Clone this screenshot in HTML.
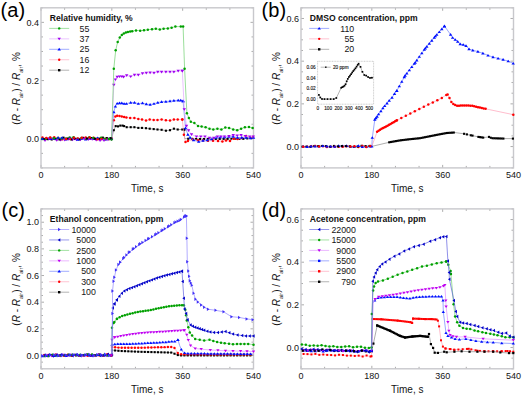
<!DOCTYPE html>
<html><head><meta charset="utf-8"><style>html,body{margin:0;padding:0;background:#fff;width:522px;height:396px;overflow:hidden}svg{display:block}</style></head><body><svg width="522" height="396" viewBox="0 0 522 396" font-family='"Liberation Sans", sans-serif' fill="#141414">
<rect width="522" height="396" fill="#fff"/>
<text x="0.6" y="16.8" font-size="20" fill="#000">(a)</text>
<text x="261.6" y="16.8" font-size="20" fill="#000">(b)</text>
<text x="1.6" y="216.5" font-size="20" fill="#000">(c)</text>
<text x="261.6" y="216.5" font-size="20" fill="#000">(d)</text>
<path d="M41 167.9v-3M41 7.8v3M64.61 167.9v-2M64.61 7.8v2M88.22 167.9v-2M88.22 7.8v2M111.83 167.9v-3M111.83 7.8v3M135.44 167.9v-2M135.44 7.8v2M159.06 167.9v-2M159.06 7.8v2M182.67 167.9v-3M182.67 7.8v3M206.28 167.9v-2M206.28 7.8v2M229.89 167.9v-2M229.89 7.8v2M253.5 167.9v-3M253.5 7.8v3M41 167.9h2M253.5 167.9h-2M41 153.35h2M253.5 153.35h-2M41 138.79h3M253.5 138.79h-3M41 124.24h2M253.5 124.24h-2M41 109.68h2M253.5 109.68h-2M41 95.13h2M253.5 95.13h-2M41 80.57h3M253.5 80.57h-3M41 66.02h2M253.5 66.02h-2M41 51.46h2M253.5 51.46h-2M41 36.91h2M253.5 36.91h-2M41 22.35h3M253.5 22.35h-3M41 7.8h2M253.5 7.8h-2" stroke="#8a8a8a" stroke-width="0.7" fill="none"/>
<rect x="41" y="7.8" width="212.5" height="160.1" fill="none" stroke="#c8c8cc" stroke-width="1.4"/>
<text x="41" y="178.2" text-anchor="middle" font-size="9">0</text>
<text x="111.83" y="178.2" text-anchor="middle" font-size="9">180</text>
<text x="182.67" y="178.2" text-anchor="middle" font-size="9">360</text>
<text x="253.5" y="178.2" text-anchor="middle" font-size="9">540</text>
<text x="39" y="141.99" text-anchor="end" font-size="9">0.0</text>
<text x="39" y="83.77" text-anchor="end" font-size="9">0.2</text>
<text x="39" y="25.55" text-anchor="end" font-size="9">0.4</text>
<text x="147.25" y="192.2" text-anchor="middle" font-size="10">Time, s</text>
<text transform="translate(19.5 88.45) rotate(-90)" text-anchor="middle" font-size="10">(<tspan font-style="italic">R</tspan> - <tspan font-style="italic">R</tspan><tspan font-size="5.6" dy="3">air</tspan><tspan dy="-3">) / </tspan><tspan font-style="italic">R</tspan><tspan font-size="5.6" dy="3">air</tspan><tspan dy="-3">, %</tspan></text>
<path d="M301 167.9v-3M301 7.8v3M324.61 167.9v-2M324.61 7.8v2M348.22 167.9v-2M348.22 7.8v2M371.83 167.9v-3M371.83 7.8v3M395.44 167.9v-2M395.44 7.8v2M419.06 167.9v-2M419.06 7.8v2M442.67 167.9v-3M442.67 7.8v3M466.28 167.9v-2M466.28 7.8v2M489.89 167.9v-2M489.89 7.8v2M513.5 167.9v-3M513.5 7.8v3M301 167.9h2M513.5 167.9h-2M301 157.23h2M513.5 157.23h-2M301 146.55h3M513.5 146.55h-3M301 135.88h2M513.5 135.88h-2M301 125.21h2M513.5 125.21h-2M301 114.53h2M513.5 114.53h-2M301 103.86h3M513.5 103.86h-3M301 93.19h2M513.5 93.19h-2M301 82.51h2M513.5 82.51h-2M301 71.84h2M513.5 71.84h-2M301 61.17h3M513.5 61.17h-3M301 50.49h2M513.5 50.49h-2M301 39.82h2M513.5 39.82h-2M301 29.15h2M513.5 29.15h-2M301 18.47h3M513.5 18.47h-3M301 7.8h2M513.5 7.8h-2" stroke="#8a8a8a" stroke-width="0.7" fill="none"/>
<rect x="301" y="7.8" width="212.5" height="160.1" fill="none" stroke="#c8c8cc" stroke-width="1.4"/>
<text x="301" y="178.2" text-anchor="middle" font-size="9">0</text>
<text x="371.83" y="178.2" text-anchor="middle" font-size="9">180</text>
<text x="442.67" y="178.2" text-anchor="middle" font-size="9">360</text>
<text x="513.5" y="178.2" text-anchor="middle" font-size="9">540</text>
<text x="299" y="149.75" text-anchor="end" font-size="9">0.0</text>
<text x="299" y="107.06" text-anchor="end" font-size="9">0.2</text>
<text x="299" y="64.37" text-anchor="end" font-size="9">0.4</text>
<text x="299" y="21.67" text-anchor="end" font-size="9">0.6</text>
<text x="407.25" y="192.2" text-anchor="middle" font-size="10">Time, s</text>
<text transform="translate(279.5 88.45) rotate(-90)" text-anchor="middle" font-size="10">(<tspan font-style="italic">R</tspan> - <tspan font-style="italic">R</tspan><tspan font-size="5.6" dy="3">air</tspan><tspan dy="-3">) / </tspan><tspan font-style="italic">R</tspan><tspan font-size="5.6" dy="3">air</tspan><tspan dy="-3">, %</tspan></text>
<path d="M41 368.8v-3M41 208.9v3M64.61 368.8v-2M64.61 208.9v2M88.22 368.8v-2M88.22 208.9v2M111.83 368.8v-3M111.83 208.9v3M135.44 368.8v-2M135.44 208.9v2M159.06 368.8v-2M159.06 208.9v2M182.67 368.8v-3M182.67 208.9v3M206.28 368.8v-2M206.28 208.9v2M229.89 368.8v-2M229.89 208.9v2M253.5 368.8v-3M253.5 208.9v3M41 368.8h2M253.5 368.8h-2M41 362.14h2M253.5 362.14h-2M41 355.48h3M253.5 355.48h-3M41 348.81h2M253.5 348.81h-2M41 342.15h2M253.5 342.15h-2M41 335.49h2M253.5 335.49h-2M41 328.82h3M253.5 328.82h-3M41 322.16h2M253.5 322.16h-2M41 315.5h2M253.5 315.5h-2M41 308.84h2M253.5 308.84h-2M41 302.18h3M253.5 302.18h-3M41 295.51h2M253.5 295.51h-2M41 288.85h2M253.5 288.85h-2M41 282.19h2M253.5 282.19h-2M41 275.53h3M253.5 275.53h-3M41 268.86h2M253.5 268.86h-2M41 262.2h2M253.5 262.2h-2M41 255.54h2M253.5 255.54h-2M41 248.88h3M253.5 248.88h-3M41 242.21h2M253.5 242.21h-2M41 235.55h2M253.5 235.55h-2M41 228.89h2M253.5 228.89h-2M41 222.23h3M253.5 222.23h-3M41 215.56h2M253.5 215.56h-2M41 208.9h2M253.5 208.9h-2" stroke="#8a8a8a" stroke-width="0.7" fill="none"/>
<rect x="41" y="208.9" width="212.5" height="159.9" fill="none" stroke="#c8c8cc" stroke-width="1.4"/>
<text x="41" y="379.1" text-anchor="middle" font-size="9">0</text>
<text x="111.83" y="379.1" text-anchor="middle" font-size="9">180</text>
<text x="182.67" y="379.1" text-anchor="middle" font-size="9">360</text>
<text x="253.5" y="379.1" text-anchor="middle" font-size="9">540</text>
<text x="39" y="358.68" text-anchor="end" font-size="9">0.0</text>
<text x="39" y="332.02" text-anchor="end" font-size="9">0.2</text>
<text x="39" y="305.38" text-anchor="end" font-size="9">0.4</text>
<text x="39" y="278.73" text-anchor="end" font-size="9">0.6</text>
<text x="39" y="252.08" text-anchor="end" font-size="9">0.8</text>
<text x="39" y="225.43" text-anchor="end" font-size="9">1.0</text>
<text x="147.25" y="393.1" text-anchor="middle" font-size="10">Time, s</text>
<text transform="translate(19.5 289.45) rotate(-90)" text-anchor="middle" font-size="10">(<tspan font-style="italic">R</tspan> - <tspan font-style="italic">R</tspan><tspan font-size="5.6" dy="3">air</tspan><tspan dy="-3">) / </tspan><tspan font-style="italic">R</tspan><tspan font-size="5.6" dy="3">air</tspan><tspan dy="-3">, %</tspan></text>
<path d="M301 368.8v-3M301 208.9v3M324.61 368.8v-2M324.61 208.9v2M348.22 368.8v-2M348.22 208.9v2M371.83 368.8v-3M371.83 208.9v3M395.44 368.8v-2M395.44 208.9v2M419.06 368.8v-2M419.06 208.9v2M442.67 368.8v-3M442.67 208.9v3M466.28 368.8v-2M466.28 208.9v2M489.89 368.8v-2M489.89 208.9v2M513.5 368.8v-3M513.5 208.9v3M301 368.8h2M513.5 368.8h-2M301 358.14h2M513.5 358.14h-2M301 347.48h3M513.5 347.48h-3M301 336.82h2M513.5 336.82h-2M301 326.16h2M513.5 326.16h-2M301 315.5h2M513.5 315.5h-2M301 304.84h3M513.5 304.84h-3M301 294.18h2M513.5 294.18h-2M301 283.52h2M513.5 283.52h-2M301 272.86h2M513.5 272.86h-2M301 262.2h3M513.5 262.2h-3M301 251.54h2M513.5 251.54h-2M301 240.88h2M513.5 240.88h-2M301 230.22h2M513.5 230.22h-2M301 219.56h3M513.5 219.56h-3M301 208.9h2M513.5 208.9h-2" stroke="#8a8a8a" stroke-width="0.7" fill="none"/>
<rect x="301" y="208.9" width="212.5" height="159.9" fill="none" stroke="#c8c8cc" stroke-width="1.4"/>
<text x="301" y="379.1" text-anchor="middle" font-size="9">0</text>
<text x="371.83" y="379.1" text-anchor="middle" font-size="9">180</text>
<text x="442.67" y="379.1" text-anchor="middle" font-size="9">360</text>
<text x="513.5" y="379.1" text-anchor="middle" font-size="9">540</text>
<text x="299" y="350.68" text-anchor="end" font-size="9">0.0</text>
<text x="299" y="308.04" text-anchor="end" font-size="9">0.2</text>
<text x="299" y="265.4" text-anchor="end" font-size="9">0.4</text>
<text x="299" y="222.76" text-anchor="end" font-size="9">0.6</text>
<text x="407.25" y="393.1" text-anchor="middle" font-size="10">Time, s</text>
<text transform="translate(279.5 289.45) rotate(-90)" text-anchor="middle" font-size="10">(<tspan font-style="italic">R</tspan> - <tspan font-style="italic">R</tspan><tspan font-size="5.6" dy="3">air</tspan><tspan dy="-3">) / </tspan><tspan font-style="italic">R</tspan><tspan font-size="5.6" dy="3">air</tspan><tspan dy="-3">, %</tspan></text>
<text x="49.8" y="21" font-size="8.6" font-weight="bold" fill="#111">Relative humidity, %</text>
<path d="M49.2 28.4h20" stroke="#70d070" stroke-width="0.65"/>
<circle cx="59.2" cy="28.4" r="1.2" fill="#00a000"/>
<text x="89.4" y="31.5" text-anchor="end" font-size="8.8">55</text>
<path d="M49.2 38.85h20" stroke="#e0a8ff" stroke-width="0.65"/>
<path d="M57.46 37.72L60.94 37.72L59.2 40.33Z" fill="#a000f0"/>
<text x="89.4" y="41.95" text-anchor="end" font-size="8.8">37</text>
<path d="M49.2 49.3h20" stroke="#7080ff" stroke-width="0.65"/>
<path d="M57.46 50.43L60.94 50.43L59.2 47.82Z" fill="#0010ff"/>
<text x="89.4" y="52.4" text-anchor="end" font-size="8.8">25</text>
<path d="M49.2 59.75h20" stroke="#ffa0b8" stroke-width="0.65"/>
<circle cx="59.2" cy="59.75" r="1.2" fill="#ff0000"/>
<text x="89.4" y="62.85" text-anchor="end" font-size="8.8">16</text>
<path d="M49.2 70.2h20" stroke="#8a8a8a" stroke-width="0.65"/>
<rect x="58" y="69" width="2.4" height="2.4" fill="#000"/>
<text x="89.4" y="73.3" text-anchor="end" font-size="8.8">12</text>
<polyline points="43.81,139.08 47.74,139.19 51.68,139.48 55.61,139.08 59.55,139.44 63.48,137.66 67.42,138.53 71.35,139.49 75.29,138.9 79.22,139.4 83.16,137.83 87.09,138.54 91.03,138.09 94.96,138.69 98.9,138.75 102.83,137.63 106.77,138.03 110.7,138.16 111.5,138.6 113.8,130.2 115.7,126.1 118,126.4 120.3,125.6 122.6,125.6 124.1,126.1 126.7,127.2 130.7,127.2 134.4,127.2 138.3,127.9 142,127.9 146,128.2 149.7,128.7 153.7,129.1 157.5,129.5 161.6,129.8 165.9,130.7 170,130.2 173.9,128.7 177.7,129.5 182.3,129.5 184.3,129.5 184.6,138.5 188.6,138.8 200,139 215,138.9 234.6,138.8 243.2,138.8 251.8,138 253,138" fill="none" stroke="#8a8a8a" stroke-width="0.7"/>
<rect x="110.45" y="137.55" width="2.1" height="2.1" fill="#000"/><rect x="112.75" y="129.15" width="2.1" height="2.1" fill="#000"/><rect x="114.65" y="125.05" width="2.1" height="2.1" fill="#000"/><rect x="116.95" y="125.35" width="2.1" height="2.1" fill="#000"/><rect x="119.25" y="124.55" width="2.1" height="2.1" fill="#000"/><rect x="121.55" y="124.55" width="2.1" height="2.1" fill="#000"/><rect x="123.05" y="125.05" width="2.1" height="2.1" fill="#000"/><rect x="125.65" y="126.15" width="2.1" height="2.1" fill="#000"/><rect x="129.65" y="126.15" width="2.1" height="2.1" fill="#000"/><rect x="133.35" y="126.15" width="2.1" height="2.1" fill="#000"/><rect x="137.25" y="126.85" width="2.1" height="2.1" fill="#000"/><rect x="140.95" y="126.85" width="2.1" height="2.1" fill="#000"/><rect x="144.95" y="127.15" width="2.1" height="2.1" fill="#000"/><rect x="148.65" y="127.65" width="2.1" height="2.1" fill="#000"/><rect x="152.65" y="128.05" width="2.1" height="2.1" fill="#000"/><rect x="156.45" y="128.45" width="2.1" height="2.1" fill="#000"/><rect x="160.55" y="128.75" width="2.1" height="2.1" fill="#000"/><rect x="164.85" y="129.65" width="2.1" height="2.1" fill="#000"/><rect x="168.95" y="129.15" width="2.1" height="2.1" fill="#000"/><rect x="172.85" y="127.65" width="2.1" height="2.1" fill="#000"/><rect x="176.65" y="128.45" width="2.1" height="2.1" fill="#000"/><rect x="181.25" y="128.45" width="2.1" height="2.1" fill="#000"/><rect x="183.25" y="128.45" width="2.1" height="2.1" fill="#000"/><rect x="183.25" y="128.45" width="2.1" height="2.1" fill="#000"/><rect x="187.19" y="137.72" width="2.1" height="2.1" fill="#000"/><rect x="191.12" y="137.81" width="2.1" height="2.1" fill="#000"/><rect x="195.06" y="137.88" width="2.1" height="2.1" fill="#000"/><rect x="198.99" y="137.95" width="2.1" height="2.1" fill="#000"/><rect x="202.93" y="137.92" width="2.1" height="2.1" fill="#000"/><rect x="206.86" y="137.9" width="2.1" height="2.1" fill="#000"/><rect x="210.8" y="137.87" width="2.1" height="2.1" fill="#000"/><rect x="214.73" y="137.85" width="2.1" height="2.1" fill="#000"/><rect x="218.66" y="137.83" width="2.1" height="2.1" fill="#000"/><rect x="222.6" y="137.81" width="2.1" height="2.1" fill="#000"/><rect x="226.53" y="137.79" width="2.1" height="2.1" fill="#000"/><rect x="230.47" y="137.77" width="2.1" height="2.1" fill="#000"/><rect x="234.41" y="137.75" width="2.1" height="2.1" fill="#000"/><rect x="238.34" y="137.75" width="2.1" height="2.1" fill="#000"/><rect x="242.28" y="137.74" width="2.1" height="2.1" fill="#000"/><rect x="246.21" y="137.37" width="2.1" height="2.1" fill="#000"/><rect x="250.14" y="137.01" width="2.1" height="2.1" fill="#000"/>
<polyline points="42.44,137.43 46.37,138.07 50.31,137.54 54.24,137.35 58.18,138.08 62.11,139.22 66.05,138.96 69.98,138.88 73.92,137.69 77.85,138.38 81.79,137.81 85.72,137.58 89.66,137.43 93.59,137.67 97.53,139.24 101.46,139.02 105.4,138.97 109.33,138.96 111.5,138.5 113.8,120.3 115.4,116.4 117.2,115.7 119.5,116.1 121.8,116.4 124.1,116.9 126.4,117.5 130.2,118 134.4,118 138.3,119 142,119.5 146,120.6 149.7,119.5 153.7,120 157.5,120 161.6,119.5 165.9,120.3 170,120.6 173.9,119.5 177.7,119.5 182.3,119.5 183.9,134.8 185.5,142 187.9,141 192.9,139.5 198,140.2 203,140.6 208,140.8 213,140.8 218,141 222.4,141.4 226,140.5 230,141 233.9,138.8 237.5,139.1 241.8,138 246.1,135.9 250.4,137.6 253,137" fill="none" stroke="#ffa0b8" stroke-width="0.7"/>
<circle cx="111.5" cy="138.5" r="1.25" fill="#ff0000"/><circle cx="113.8" cy="120.3" r="1.25" fill="#ff0000"/><circle cx="115.4" cy="116.4" r="1.25" fill="#ff0000"/><circle cx="117.2" cy="115.7" r="1.25" fill="#ff0000"/><circle cx="119.5" cy="116.1" r="1.25" fill="#ff0000"/><circle cx="121.8" cy="116.4" r="1.25" fill="#ff0000"/><circle cx="124.1" cy="116.9" r="1.25" fill="#ff0000"/><circle cx="126.4" cy="117.5" r="1.25" fill="#ff0000"/><circle cx="130.2" cy="118" r="1.25" fill="#ff0000"/><circle cx="134.4" cy="118" r="1.25" fill="#ff0000"/><circle cx="138.3" cy="119" r="1.25" fill="#ff0000"/><circle cx="142" cy="119.5" r="1.25" fill="#ff0000"/><circle cx="146" cy="120.6" r="1.25" fill="#ff0000"/><circle cx="149.7" cy="119.5" r="1.25" fill="#ff0000"/><circle cx="153.7" cy="120" r="1.25" fill="#ff0000"/><circle cx="157.5" cy="120" r="1.25" fill="#ff0000"/><circle cx="161.6" cy="119.5" r="1.25" fill="#ff0000"/><circle cx="165.9" cy="120.3" r="1.25" fill="#ff0000"/><circle cx="170" cy="120.6" r="1.25" fill="#ff0000"/><circle cx="173.9" cy="119.5" r="1.25" fill="#ff0000"/><circle cx="177.7" cy="119.5" r="1.25" fill="#ff0000"/><circle cx="182.3" cy="119.5" r="1.25" fill="#ff0000"/><circle cx="182.3" cy="119.5" r="1.25" fill="#ff0000"/><circle cx="183.9" cy="134.8" r="1.25" fill="#ff0000"/><circle cx="185.5" cy="142" r="1.25" fill="#ff0000"/><circle cx="187.9" cy="141" r="1.25" fill="#ff0000"/><circle cx="192.9" cy="139.5" r="1.25" fill="#ff0000"/><circle cx="198" cy="140.2" r="1.25" fill="#ff0000"/><circle cx="203" cy="140.6" r="1.25" fill="#ff0000"/><circle cx="208" cy="140.8" r="1.25" fill="#ff0000"/><circle cx="213" cy="140.8" r="1.25" fill="#ff0000"/><circle cx="218" cy="141" r="1.25" fill="#ff0000"/><circle cx="222.4" cy="141.4" r="1.25" fill="#ff0000"/><circle cx="226" cy="140.5" r="1.25" fill="#ff0000"/><circle cx="230" cy="141" r="1.25" fill="#ff0000"/><circle cx="233.9" cy="138.8" r="1.25" fill="#ff0000"/><circle cx="237.5" cy="139.1" r="1.25" fill="#ff0000"/><circle cx="241.8" cy="138" r="1.25" fill="#ff0000"/><circle cx="246.1" cy="135.9" r="1.25" fill="#ff0000"/><circle cx="250.4" cy="137.6" r="1.25" fill="#ff0000"/><circle cx="253" cy="137" r="1.25" fill="#ff0000"/>
<polyline points="42.44,138.69 46.38,138.34 50.31,138.81 54.25,138.85 58.18,137.73 62.12,137.63 66.05,139.27 69.99,138.12 73.92,138.07 77.86,139.59 81.79,138.54 85.73,139.27 89.66,138.55 93.6,138.88 97.53,137.9 101.47,138.87 105.4,139.34 109.34,138.65 111.5,138.6 113.8,112 115.4,106.4 117.2,103.4 119.5,103.1 121.8,103.1 124.1,103.7 126.4,103.7 130.7,102.6 134.5,102.6 138.3,103.7 142.5,103.1 146.3,104.1 150.1,104.6 154,103.7 157.8,102.6 161.6,101.8 165.9,101.5 170,101.1 173.9,100.6 178.2,100.3 180.8,100.3 183.1,101.1 185.5,128 187.9,134.5 190.1,137.6 193.6,140 198.7,141.7 203,140.5 207.3,140 211.6,139.1 215.9,137.6 220.2,137.1 224.5,137.1 228.9,136.6 233.2,136.6 237.5,137.6 241.8,137.6 246.1,137.6 250.4,138 253.5,137.6" fill="none" stroke="#7080ff" stroke-width="0.7"/>
<path d="M109.76 139.73L113.24 139.73L111.5 137.12Z" fill="#0010ff"/><path d="M112.06 113.13L115.54 113.13L113.8 110.52Z" fill="#0010ff"/><path d="M113.66 107.53L117.14 107.53L115.4 104.92Z" fill="#0010ff"/><path d="M115.46 104.53L118.94 104.53L117.2 101.92Z" fill="#0010ff"/><path d="M117.76 104.23L121.24 104.23L119.5 101.62Z" fill="#0010ff"/><path d="M120.06 104.23L123.54 104.23L121.8 101.62Z" fill="#0010ff"/><path d="M122.36 104.83L125.84 104.83L124.1 102.22Z" fill="#0010ff"/><path d="M124.66 104.83L128.14 104.83L126.4 102.22Z" fill="#0010ff"/><path d="M128.96 103.73L132.44 103.73L130.7 101.12Z" fill="#0010ff"/><path d="M132.76 103.73L136.24 103.73L134.5 101.12Z" fill="#0010ff"/><path d="M136.56 104.83L140.04 104.83L138.3 102.22Z" fill="#0010ff"/><path d="M140.76 104.23L144.24 104.23L142.5 101.62Z" fill="#0010ff"/><path d="M144.56 105.23L148.04 105.23L146.3 102.62Z" fill="#0010ff"/><path d="M148.36 105.73L151.84 105.73L150.1 103.12Z" fill="#0010ff"/><path d="M152.26 104.83L155.74 104.83L154 102.22Z" fill="#0010ff"/><path d="M156.06 103.73L159.54 103.73L157.8 101.12Z" fill="#0010ff"/><path d="M159.86 102.93L163.34 102.93L161.6 100.32Z" fill="#0010ff"/><path d="M164.16 102.63L167.64 102.63L165.9 100.02Z" fill="#0010ff"/><path d="M168.26 102.23L171.74 102.23L170 99.62Z" fill="#0010ff"/><path d="M172.16 101.73L175.64 101.73L173.9 99.12Z" fill="#0010ff"/><path d="M176.46 101.43L179.94 101.43L178.2 98.82Z" fill="#0010ff"/><path d="M179.06 101.43L182.54 101.43L180.8 98.82Z" fill="#0010ff"/><path d="M181.36 102.23L184.84 102.23L183.1 99.62Z" fill="#0010ff"/><path d="M181.36 102.23L184.84 102.23L183.1 99.62Z" fill="#0010ff"/><path d="M183.76 129.13L187.24 129.13L185.5 126.52Z" fill="#0010ff"/><path d="M186.16 135.63L189.64 135.63L187.9 133.02Z" fill="#0010ff"/><path d="M188.36 138.73L191.84 138.73L190.1 136.12Z" fill="#0010ff"/><path d="M191.86 141.13L195.34 141.13L193.6 138.52Z" fill="#0010ff"/><path d="M196.96 142.83L200.44 142.83L198.7 140.22Z" fill="#0010ff"/><path d="M201.26 141.63L204.74 141.63L203 139.02Z" fill="#0010ff"/><path d="M205.56 141.13L209.04 141.13L207.3 138.52Z" fill="#0010ff"/><path d="M209.86 140.23L213.34 140.23L211.6 137.62Z" fill="#0010ff"/><path d="M214.16 138.73L217.64 138.73L215.9 136.12Z" fill="#0010ff"/><path d="M218.46 138.23L221.94 138.23L220.2 135.62Z" fill="#0010ff"/><path d="M222.76 138.23L226.24 138.23L224.5 135.62Z" fill="#0010ff"/><path d="M227.16 137.73L230.64 137.73L228.9 135.12Z" fill="#0010ff"/><path d="M231.46 137.73L234.94 137.73L233.2 135.12Z" fill="#0010ff"/><path d="M235.76 138.73L239.24 138.73L237.5 136.12Z" fill="#0010ff"/><path d="M240.06 138.73L243.54 138.73L241.8 136.12Z" fill="#0010ff"/><path d="M244.36 138.73L247.84 138.73L246.1 136.12Z" fill="#0010ff"/><path d="M248.66 139.13L252.14 139.13L250.4 136.52Z" fill="#0010ff"/><path d="M251.76 138.73L255.24 138.73L253.5 136.12Z" fill="#0010ff"/>
<polyline points="44.99,140.5 48.92,138.71 52.86,138.77 56.79,140.27 60.73,140.07 64.66,139.94 68.6,139.22 72.53,139.81 76.47,139.81 80.4,139.76 84.34,138.92 88.27,139.46 92.21,139.39 96.14,140.05 100.08,140.59 104.01,140.5 107.95,139.69 111.5,139.5 113.8,85 115.4,79.6 117.2,76.9 119.5,76.6 121.8,76.6 123.6,76.9 126.7,75.5 130.7,76.6 134.5,75 138.3,75 142.5,73.5 146.3,73 150.1,72.7 154,73 157.8,72 161.6,72 165.9,72 170,72 173.9,72 178.2,70.9 182.3,70.9 184.3,109.3 186.5,125.9 188.6,130.5 191.5,134.5 196.5,136.6 200.8,136.6 205,136.6 209.5,138 213.8,138 217.4,136.6 220.9,136.6 224.5,136.6 228.9,136.2 233.2,135.2 237.2,135.6 241.1,135.2 245.4,136.2 249.7,136.6 253.3,136.6" fill="none" stroke="#e0a8ff" stroke-width="0.7"/>
<path d="M109.76 138.37L113.24 138.37L111.5 140.98Z" fill="#a000f0"/><path d="M112.06 83.87L115.54 83.87L113.8 86.48Z" fill="#a000f0"/><path d="M113.66 78.47L117.14 78.47L115.4 81.08Z" fill="#a000f0"/><path d="M115.46 75.77L118.94 75.77L117.2 78.38Z" fill="#a000f0"/><path d="M117.76 75.47L121.24 75.47L119.5 78.08Z" fill="#a000f0"/><path d="M120.06 75.47L123.54 75.47L121.8 78.08Z" fill="#a000f0"/><path d="M121.86 75.77L125.34 75.77L123.6 78.38Z" fill="#a000f0"/><path d="M124.96 74.37L128.44 74.37L126.7 76.98Z" fill="#a000f0"/><path d="M128.96 75.47L132.44 75.47L130.7 78.08Z" fill="#a000f0"/><path d="M132.76 73.87L136.24 73.87L134.5 76.48Z" fill="#a000f0"/><path d="M136.56 73.87L140.04 73.87L138.3 76.48Z" fill="#a000f0"/><path d="M140.76 72.37L144.24 72.37L142.5 74.98Z" fill="#a000f0"/><path d="M144.56 71.87L148.04 71.87L146.3 74.48Z" fill="#a000f0"/><path d="M148.36 71.57L151.84 71.57L150.1 74.18Z" fill="#a000f0"/><path d="M152.26 71.87L155.74 71.87L154 74.48Z" fill="#a000f0"/><path d="M156.06 70.87L159.54 70.87L157.8 73.48Z" fill="#a000f0"/><path d="M159.86 70.87L163.34 70.87L161.6 73.48Z" fill="#a000f0"/><path d="M164.16 70.87L167.64 70.87L165.9 73.48Z" fill="#a000f0"/><path d="M168.26 70.87L171.74 70.87L170 73.48Z" fill="#a000f0"/><path d="M172.16 70.87L175.64 70.87L173.9 73.48Z" fill="#a000f0"/><path d="M176.46 69.77L179.94 69.77L178.2 72.38Z" fill="#a000f0"/><path d="M180.56 69.77L184.04 69.77L182.3 72.38Z" fill="#a000f0"/><path d="M180.56 69.77L184.04 69.77L182.3 72.38Z" fill="#a000f0"/><path d="M182.56 108.17L186.04 108.17L184.3 110.78Z" fill="#a000f0"/><path d="M184.76 124.77L188.24 124.77L186.5 127.38Z" fill="#a000f0"/><path d="M186.86 129.37L190.34 129.37L188.6 131.98Z" fill="#a000f0"/><path d="M189.76 133.37L193.24 133.37L191.5 135.98Z" fill="#a000f0"/><path d="M194.76 135.47L198.24 135.47L196.5 138.08Z" fill="#a000f0"/><path d="M199.06 135.47L202.54 135.47L200.8 138.08Z" fill="#a000f0"/><path d="M203.26 135.47L206.74 135.47L205 138.08Z" fill="#a000f0"/><path d="M207.76 136.87L211.24 136.87L209.5 139.48Z" fill="#a000f0"/><path d="M212.06 136.87L215.54 136.87L213.8 139.48Z" fill="#a000f0"/><path d="M215.66 135.47L219.14 135.47L217.4 138.08Z" fill="#a000f0"/><path d="M219.16 135.47L222.64 135.47L220.9 138.08Z" fill="#a000f0"/><path d="M222.76 135.47L226.24 135.47L224.5 138.08Z" fill="#a000f0"/><path d="M227.16 135.07L230.64 135.07L228.9 137.68Z" fill="#a000f0"/><path d="M231.46 134.07L234.94 134.07L233.2 136.68Z" fill="#a000f0"/><path d="M235.46 134.47L238.94 134.47L237.2 137.08Z" fill="#a000f0"/><path d="M239.36 134.07L242.84 134.07L241.1 136.68Z" fill="#a000f0"/><path d="M243.66 135.07L247.14 135.07L245.4 137.68Z" fill="#a000f0"/><path d="M247.96 135.47L251.44 135.47L249.7 138.08Z" fill="#a000f0"/><path d="M251.56 135.47L255.04 135.47L253.3 138.08Z" fill="#a000f0"/>
<polyline points="42.08,138.89 46.01,138.73 49.95,137.71 53.88,138.19 57.82,138.1 61.75,138.5 65.69,138.78 69.62,137.39 73.56,137.26 77.49,138.87 81.43,138.07 85.36,138.72 89.3,137.2 93.23,138.09 97.17,138.64 101.1,137.66 105.04,139.09 108.97,139 111.5,139.5 113.8,68.7 115.7,50.3 117.7,41.9 119.8,37.6 121.8,34.9 123.8,33.5 125.9,32.6 127.9,32 130.2,31.6 132.2,31.2 136,30.4 140.2,30.7 144,30.3 147.8,29.7 152,29.2 155.8,28.7 159.8,29.5 163.6,28.7 167.8,28.4 171.6,27.7 175.4,26.6 180.8,26.6 183.1,26.6 184.6,68.7 186.9,113.2 188.9,118 190.8,121.8 194.4,123 198,125.9 201.6,126.6 205.6,127.3 209.5,128.7 213.3,129.5 217.4,128.7 221.4,129.5 225.3,127.6 229.1,128 233.2,129.5 237.2,130.2 241.1,128.7 244.9,127.3 249,127 252.6,128" fill="none" stroke="#70d070" stroke-width="0.7"/>
<circle cx="111.5" cy="139.5" r="1.25" fill="#00a000"/><circle cx="113.8" cy="68.7" r="1.25" fill="#00a000"/><circle cx="115.7" cy="50.3" r="1.25" fill="#00a000"/><circle cx="117.7" cy="41.9" r="1.25" fill="#00a000"/><circle cx="119.8" cy="37.6" r="1.25" fill="#00a000"/><circle cx="121.8" cy="34.9" r="1.25" fill="#00a000"/><circle cx="123.8" cy="33.5" r="1.25" fill="#00a000"/><circle cx="125.9" cy="32.6" r="1.25" fill="#00a000"/><circle cx="127.9" cy="32" r="1.25" fill="#00a000"/><circle cx="130.2" cy="31.6" r="1.25" fill="#00a000"/><circle cx="132.2" cy="31.2" r="1.25" fill="#00a000"/><circle cx="136" cy="30.4" r="1.25" fill="#00a000"/><circle cx="140.2" cy="30.7" r="1.25" fill="#00a000"/><circle cx="144" cy="30.3" r="1.25" fill="#00a000"/><circle cx="147.8" cy="29.7" r="1.25" fill="#00a000"/><circle cx="152" cy="29.2" r="1.25" fill="#00a000"/><circle cx="155.8" cy="28.7" r="1.25" fill="#00a000"/><circle cx="159.8" cy="29.5" r="1.25" fill="#00a000"/><circle cx="163.6" cy="28.7" r="1.25" fill="#00a000"/><circle cx="167.8" cy="28.4" r="1.25" fill="#00a000"/><circle cx="171.6" cy="27.7" r="1.25" fill="#00a000"/><circle cx="175.4" cy="26.6" r="1.25" fill="#00a000"/><circle cx="180.8" cy="26.6" r="1.25" fill="#00a000"/><circle cx="183.1" cy="26.6" r="1.25" fill="#00a000"/><circle cx="184.6" cy="68.7" r="1.25" fill="#00a000"/><circle cx="186.9" cy="113.2" r="1.25" fill="#00a000"/><circle cx="188.9" cy="118" r="1.25" fill="#00a000"/><circle cx="190.8" cy="121.8" r="1.25" fill="#00a000"/><circle cx="194.4" cy="123" r="1.25" fill="#00a000"/><circle cx="198" cy="125.9" r="1.25" fill="#00a000"/><circle cx="201.6" cy="126.6" r="1.25" fill="#00a000"/><circle cx="205.6" cy="127.3" r="1.25" fill="#00a000"/><circle cx="209.5" cy="128.7" r="1.25" fill="#00a000"/><circle cx="213.3" cy="129.5" r="1.25" fill="#00a000"/><circle cx="217.4" cy="128.7" r="1.25" fill="#00a000"/><circle cx="221.4" cy="129.5" r="1.25" fill="#00a000"/><circle cx="225.3" cy="127.6" r="1.25" fill="#00a000"/><circle cx="229.1" cy="128" r="1.25" fill="#00a000"/><circle cx="233.2" cy="129.5" r="1.25" fill="#00a000"/><circle cx="237.2" cy="130.2" r="1.25" fill="#00a000"/><circle cx="241.1" cy="128.7" r="1.25" fill="#00a000"/><circle cx="244.9" cy="127.3" r="1.25" fill="#00a000"/><circle cx="249" cy="127" r="1.25" fill="#00a000"/><circle cx="252.6" cy="128" r="1.25" fill="#00a000"/>
<rect x="105.72" y="136.98" width="2.1" height="2.1" fill="#000"/><path d="M91.86 140.01L95.34 140.01L93.6 137.4Z" fill="#0010ff"/><rect x="54.56" y="138.03" width="2.1" height="2.1" fill="#000"/><rect x="82.11" y="136.78" width="2.1" height="2.1" fill="#000"/><path d="M94.4 138.92L97.88 138.92L96.14 141.53Z" fill="#a000f0"/><circle cx="109.33" cy="138.96" r="1.25" fill="#ff0000"/><circle cx="49.95" cy="137.71" r="1.25" fill="#00a000"/><path d="M72.18 139.2L75.66 139.2L73.92 136.59Z" fill="#0010ff"/><circle cx="73.56" cy="137.26" r="1.25" fill="#00a000"/><path d="M70.79 138.68L74.27 138.68L72.53 141.29Z" fill="#a000f0"/><path d="M106.21 138.56L109.69 138.56L107.95 141.17Z" fill="#a000f0"/><path d="M43.25 139.36L46.73 139.36L44.99 141.97Z" fill="#a000f0"/><path d="M87.92 139.68L91.4 139.68L89.66 137.07Z" fill="#0010ff"/><circle cx="93.59" cy="137.67" r="1.25" fill="#ff0000"/><path d="M103.66 140.47L107.14 140.47L105.4 137.86Z" fill="#0010ff"/><path d="M78.66 138.63L82.14 138.63L80.4 141.24Z" fill="#a000f0"/><rect x="101.78" y="136.58" width="2.1" height="2.1" fill="#000"/><path d="M44.64 139.47L48.12 139.47L46.38 136.86Z" fill="#0010ff"/><rect x="89.98" y="137.04" width="2.1" height="2.1" fill="#000"/><circle cx="77.49" cy="138.87" r="1.25" fill="#00a000"/><rect x="50.63" y="138.43" width="2.1" height="2.1" fill="#000"/><path d="M83.99 140.4L87.47 140.4L85.73 137.79Z" fill="#0010ff"/><rect x="62.43" y="136.61" width="2.1" height="2.1" fill="#000"/><circle cx="69.62" cy="137.39" r="1.25" fill="#00a000"/><circle cx="46.01" cy="138.73" r="1.25" fill="#00a000"/><path d="M99.73 140L103.21 140L101.47 137.39Z" fill="#0010ff"/><circle cx="42.44" cy="137.43" r="1.25" fill="#ff0000"/><rect x="74.24" y="137.85" width="2.1" height="2.1" fill="#000"/><path d="M48.57 139.94L52.05 139.94L50.31 137.33Z" fill="#0010ff"/><circle cx="101.1" cy="137.66" r="1.25" fill="#00a000"/><circle cx="101.46" cy="139.02" r="1.25" fill="#ff0000"/><circle cx="62.11" cy="139.22" r="1.25" fill="#ff0000"/><rect x="46.69" y="138.14" width="2.1" height="2.1" fill="#000"/><circle cx="58.18" cy="138.08" r="1.25" fill="#ff0000"/><circle cx="89.3" cy="137.2" r="1.25" fill="#00a000"/><circle cx="105.4" cy="138.97" r="1.25" fill="#ff0000"/><path d="M107.6 139.78L111.08 139.78L109.34 137.17Z" fill="#0010ff"/><path d="M47.18 137.58L50.66 137.58L48.92 140.19Z" fill="#a000f0"/><rect x="42.76" y="138.03" width="2.1" height="2.1" fill="#000"/><circle cx="73.92" cy="137.69" r="1.25" fill="#ff0000"/><circle cx="97.17" cy="138.64" r="1.25" fill="#00a000"/><path d="M55.05 139.14L58.53 139.14L56.79 141.75Z" fill="#a000f0"/><path d="M98.34 139.46L101.82 139.46L100.08 142.07Z" fill="#a000f0"/><rect x="97.85" y="137.7" width="2.1" height="2.1" fill="#000"/><path d="M90.47 138.26L93.95 138.26L92.21 140.87Z" fill="#a000f0"/><path d="M86.53 138.33L90.01 138.33L88.27 140.94Z" fill="#a000f0"/><rect x="109.65" y="137.11" width="2.1" height="2.1" fill="#000"/><circle cx="57.82" cy="138.1" r="1.25" fill="#00a000"/><circle cx="54.24" cy="137.35" r="1.25" fill="#ff0000"/><path d="M68.25 139.25L71.73 139.25L69.99 136.64Z" fill="#0010ff"/><path d="M52.51 139.98L55.99 139.98L54.25 137.37Z" fill="#0010ff"/><circle cx="85.36" cy="138.72" r="1.25" fill="#00a000"/><rect x="70.3" y="138.44" width="2.1" height="2.1" fill="#000"/><path d="M58.99 138.94L62.47 138.94L60.73 141.55Z" fill="#a000f0"/><circle cx="46.37" cy="138.07" r="1.25" fill="#ff0000"/><circle cx="85.72" cy="137.58" r="1.25" fill="#ff0000"/><circle cx="93.23" cy="138.09" r="1.25" fill="#00a000"/><rect x="58.5" y="138.39" width="2.1" height="2.1" fill="#000"/><rect x="93.91" y="137.64" width="2.1" height="2.1" fill="#000"/><circle cx="61.75" cy="138.5" r="1.25" fill="#00a000"/><circle cx="69.98" cy="138.88" r="1.25" fill="#ff0000"/><path d="M95.79 139.03L99.27 139.03L97.53 136.42Z" fill="#0010ff"/><path d="M56.44 138.86L59.92 138.86L58.18 136.25Z" fill="#0010ff"/><circle cx="89.66" cy="137.43" r="1.25" fill="#ff0000"/><path d="M60.38 138.76L63.86 138.76L62.12 136.15Z" fill="#0010ff"/><path d="M66.86 138.09L70.34 138.09L68.6 140.7Z" fill="#a000f0"/><circle cx="42.08" cy="138.89" r="1.25" fill="#00a000"/><path d="M80.05 139.67L83.53 139.67L81.79 137.06Z" fill="#0010ff"/><circle cx="108.97" cy="139" r="1.25" fill="#00a000"/><rect x="86.04" y="137.49" width="2.1" height="2.1" fill="#000"/><circle cx="50.31" cy="137.54" r="1.25" fill="#ff0000"/><circle cx="105.04" cy="139.09" r="1.25" fill="#00a000"/><circle cx="97.53" cy="139.24" r="1.25" fill="#ff0000"/><rect x="78.17" y="138.35" width="2.1" height="2.1" fill="#000"/><path d="M51.12 137.64L54.6 137.64L52.86 140.25Z" fill="#a000f0"/><path d="M64.31 140.41L67.79 140.41L66.05 137.8Z" fill="#0010ff"/><circle cx="81.43" cy="138.07" r="1.25" fill="#00a000"/><path d="M74.73 138.68L78.21 138.68L76.47 141.29Z" fill="#a000f0"/><path d="M40.7 139.82L44.18 139.82L42.44 137.21Z" fill="#0010ff"/><circle cx="81.79" cy="137.81" r="1.25" fill="#ff0000"/><circle cx="65.69" cy="138.78" r="1.25" fill="#00a000"/><circle cx="77.85" cy="138.38" r="1.25" fill="#ff0000"/><path d="M82.6 137.79L86.08 137.79L84.34 140.4Z" fill="#a000f0"/><rect x="66.37" y="137.48" width="2.1" height="2.1" fill="#000"/><path d="M62.92 138.81L66.4 138.81L64.66 141.42Z" fill="#a000f0"/><path d="M76.12 140.72L79.6 140.72L77.86 138.11Z" fill="#0010ff"/><path d="M102.27 139.37L105.75 139.37L104.01 141.98Z" fill="#a000f0"/><circle cx="66.05" cy="138.96" r="1.25" fill="#ff0000"/><circle cx="53.88" cy="138.19" r="1.25" fill="#00a000"/>
<text x="309.8" y="21" font-size="8.6" font-weight="bold" fill="#111">DMSO concentration, ppm</text>
<path d="M309.2 28.4h20" stroke="#7080ff" stroke-width="0.65"/>
<path d="M317.46 29.53L320.94 29.53L319.2 26.92Z" fill="#0010ff"/>
<text x="354.2" y="31.5" text-anchor="end" font-size="8.8">110</text>
<path d="M309.2 38.85h20" stroke="#ffa0b8" stroke-width="0.65"/>
<circle cx="319.2" cy="38.85" r="1.2" fill="#ff0000"/>
<text x="354.2" y="41.95" text-anchor="end" font-size="8.8">55</text>
<path d="M309.2 49.3h20" stroke="#8a8a8a" stroke-width="0.65"/>
<rect x="318" y="48.1" width="2.4" height="2.4" fill="#000"/>
<text x="354.2" y="52.4" text-anchor="end" font-size="8.8">20</text>
<polyline points="302.52,146.62 306.46,146.62 310.4,146.82 314.34,146.02 318.28,146.08 322.22,145.98 326.16,146.07 330.1,146.68 334.04,145.96 337.98,146.44 341.92,146.06 345.86,146.15 349.8,146.32 353.74,146.81 357.68,146.53 361.62,145.82 365.56,146.13 369.5,145.98 371.8,146.4 389.2,142.3 400,140.4 410,139.2 420,138.2 429.6,136.3 439.2,134.4 446.8,133 454.5,132.5 464.1,133.8 466.9,134.4 470.8,135.3 472.5,135.6 478.4,136.9 483.2,137.6 489,136.9 491.8,138.2 504.3,138.6 512.9,138.6" fill="none" stroke="#8a8a8a" stroke-width="0.7"/>
<rect x="388.15" y="141.25" width="2.1" height="2.1" fill="#000"/><rect x="389.85" y="140.95" width="2.1" height="2.1" fill="#000"/><rect x="391.55" y="140.65" width="2.1" height="2.1" fill="#000"/><rect x="393.25" y="140.35" width="2.1" height="2.1" fill="#000"/><rect x="394.95" y="140.05" width="2.1" height="2.1" fill="#000"/><rect x="396.65" y="139.75" width="2.1" height="2.1" fill="#000"/><rect x="398.35" y="139.46" width="2.1" height="2.1" fill="#000"/><rect x="400.05" y="139.22" width="2.1" height="2.1" fill="#000"/><rect x="401.75" y="139.01" width="2.1" height="2.1" fill="#000"/><rect x="403.45" y="138.81" width="2.1" height="2.1" fill="#000"/><rect x="405.15" y="138.61" width="2.1" height="2.1" fill="#000"/><rect x="406.85" y="138.4" width="2.1" height="2.1" fill="#000"/><rect x="408.55" y="138.2" width="2.1" height="2.1" fill="#000"/><rect x="410.25" y="138.02" width="2.1" height="2.1" fill="#000"/><rect x="411.95" y="137.85" width="2.1" height="2.1" fill="#000"/><rect x="413.65" y="137.68" width="2.1" height="2.1" fill="#000"/><rect x="415.35" y="137.51" width="2.1" height="2.1" fill="#000"/><rect x="417.05" y="137.34" width="2.1" height="2.1" fill="#000"/><rect x="418.75" y="137.17" width="2.1" height="2.1" fill="#000"/><rect x="420.45" y="136.85" width="2.1" height="2.1" fill="#000"/><rect x="422.15" y="136.52" width="2.1" height="2.1" fill="#000"/><rect x="423.85" y="136.18" width="2.1" height="2.1" fill="#000"/><rect x="425.55" y="135.84" width="2.1" height="2.1" fill="#000"/><rect x="427.25" y="135.51" width="2.1" height="2.1" fill="#000"/><rect x="428.95" y="135.17" width="2.1" height="2.1" fill="#000"/><rect x="430.65" y="134.83" width="2.1" height="2.1" fill="#000"/><rect x="432.35" y="134.5" width="2.1" height="2.1" fill="#000"/><rect x="434.05" y="134.16" width="2.1" height="2.1" fill="#000"/><rect x="435.75" y="133.82" width="2.1" height="2.1" fill="#000"/><rect x="437.45" y="133.49" width="2.1" height="2.1" fill="#000"/><rect x="439.15" y="133.17" width="2.1" height="2.1" fill="#000"/><rect x="440.85" y="132.85" width="2.1" height="2.1" fill="#000"/><rect x="442.55" y="132.54" width="2.1" height="2.1" fill="#000"/><rect x="444.25" y="132.23" width="2.1" height="2.1" fill="#000"/><rect x="445.95" y="131.94" width="2.1" height="2.1" fill="#000"/><rect x="447.65" y="131.83" width="2.1" height="2.1" fill="#000"/><rect x="449.35" y="131.72" width="2.1" height="2.1" fill="#000"/><rect x="451.05" y="131.61" width="2.1" height="2.1" fill="#000"/><rect x="452.75" y="131.5" width="2.1" height="2.1" fill="#000"/><rect x="463.05" y="132.75" width="2.1" height="2.1" fill="#000"/><rect x="465.85" y="133.35" width="2.1" height="2.1" fill="#000"/><rect x="469.75" y="134.25" width="2.1" height="2.1" fill="#000"/><rect x="471.45" y="134.55" width="2.1" height="2.1" fill="#000"/><rect x="477.35" y="135.85" width="2.1" height="2.1" fill="#000"/><rect x="478.95" y="136.08" width="2.1" height="2.1" fill="#000"/><rect x="480.55" y="136.32" width="2.1" height="2.1" fill="#000"/><rect x="482.15" y="136.55" width="2.1" height="2.1" fill="#000"/><rect x="487.95" y="135.85" width="2.1" height="2.1" fill="#000"/><rect x="489.75" y="136.69" width="2.1" height="2.1" fill="#000"/><rect x="491.55" y="137.18" width="2.1" height="2.1" fill="#000"/><rect x="493.35" y="137.23" width="2.1" height="2.1" fill="#000"/><rect x="495.15" y="137.29" width="2.1" height="2.1" fill="#000"/><rect x="496.95" y="137.35" width="2.1" height="2.1" fill="#000"/><rect x="498.75" y="137.41" width="2.1" height="2.1" fill="#000"/><rect x="500.55" y="137.46" width="2.1" height="2.1" fill="#000"/><rect x="502.35" y="137.52" width="2.1" height="2.1" fill="#000"/><rect x="511.85" y="137.55" width="2.1" height="2.1" fill="#000"/>
<polyline points="303.28,146.79 307.22,146.8 311.16,146.17 315.1,146.01 319.04,146.45 322.98,146.33 326.92,146.97 330.86,146.83 334.8,146.72 338.74,146.67 342.68,146.79 346.62,146.17 350.56,146.53 354.5,146.19 358.44,147.09 362.38,146.07 366.32,146.98 370.26,146.09 371.8,146.4 377.1,131.7 380.2,129.7 383.2,127.9 387.7,125.6 392.3,123 396.8,120.3 401.4,118 405.9,115.8 410.5,113.5 415,111.2 419.5,108.9 423.3,107 441.3,98.3 445.6,95.3 447.6,94.5 449.6,98.3 451.4,102.1 453.9,104.6 457.7,105.9 462.7,105.4 467.8,105.4 472.8,105.9 477.9,107.1 482.9,108.4 486,108.9 513.5,114.7" fill="none" stroke="#ffa0b8" stroke-width="0.7"/>
<circle cx="377.1" cy="131.7" r="1.25" fill="#ff0000"/><circle cx="378.6" cy="130.73" r="1.25" fill="#ff0000"/><circle cx="380.1" cy="129.76" r="1.25" fill="#ff0000"/><circle cx="381.6" cy="128.86" r="1.25" fill="#ff0000"/><circle cx="383.1" cy="127.96" r="1.25" fill="#ff0000"/><circle cx="384.6" cy="127.18" r="1.25" fill="#ff0000"/><circle cx="386.1" cy="126.42" r="1.25" fill="#ff0000"/><circle cx="387.6" cy="125.65" r="1.25" fill="#ff0000"/><circle cx="389.1" cy="124.81" r="1.25" fill="#ff0000"/><circle cx="390.6" cy="123.96" r="1.25" fill="#ff0000"/><circle cx="392.1" cy="123.11" r="1.25" fill="#ff0000"/><circle cx="393.6" cy="122.22" r="1.25" fill="#ff0000"/><circle cx="395.1" cy="121.32" r="1.25" fill="#ff0000"/><circle cx="396.6" cy="120.42" r="1.25" fill="#ff0000"/><circle cx="396.8" cy="120.3" r="1.25" fill="#ff0000"/><circle cx="401.3" cy="118.05" r="1.25" fill="#ff0000"/><circle cx="405.8" cy="115.85" r="1.25" fill="#ff0000"/><circle cx="410.3" cy="113.6" r="1.25" fill="#ff0000"/><circle cx="414.8" cy="111.3" r="1.25" fill="#ff0000"/><circle cx="419.3" cy="109" r="1.25" fill="#ff0000"/><circle cx="423.8" cy="106.76" r="1.25" fill="#ff0000"/><circle cx="428.3" cy="104.58" r="1.25" fill="#ff0000"/><circle cx="432.8" cy="102.41" r="1.25" fill="#ff0000"/><circle cx="437.3" cy="100.23" r="1.25" fill="#ff0000"/><circle cx="441.8" cy="97.95" r="1.25" fill="#ff0000"/><circle cx="446.3" cy="95.02" r="1.25" fill="#ff0000"/><circle cx="447.6" cy="94.5" r="1.25" fill="#ff0000"/><circle cx="449.5" cy="98.11" r="1.25" fill="#ff0000"/><circle cx="451.4" cy="102.1" r="1.25" fill="#ff0000"/><circle cx="453.3" cy="104" r="1.25" fill="#ff0000"/><circle cx="455.2" cy="105.04" r="1.25" fill="#ff0000"/><circle cx="457.1" cy="105.69" r="1.25" fill="#ff0000"/><circle cx="459" cy="105.77" r="1.25" fill="#ff0000"/><circle cx="460.9" cy="105.58" r="1.25" fill="#ff0000"/><circle cx="462.8" cy="105.4" r="1.25" fill="#ff0000"/><circle cx="464.7" cy="105.4" r="1.25" fill="#ff0000"/><circle cx="466.6" cy="105.4" r="1.25" fill="#ff0000"/><circle cx="468.5" cy="105.47" r="1.25" fill="#ff0000"/><circle cx="470.4" cy="105.66" r="1.25" fill="#ff0000"/><circle cx="472.3" cy="105.85" r="1.25" fill="#ff0000"/><circle cx="474.2" cy="106.23" r="1.25" fill="#ff0000"/><circle cx="476.1" cy="106.68" r="1.25" fill="#ff0000"/><circle cx="478" cy="107.13" r="1.25" fill="#ff0000"/><circle cx="479.9" cy="107.62" r="1.25" fill="#ff0000"/><circle cx="481.8" cy="108.11" r="1.25" fill="#ff0000"/><circle cx="483.7" cy="108.53" r="1.25" fill="#ff0000"/><circle cx="485.6" cy="108.84" r="1.25" fill="#ff0000"/><circle cx="513.3" cy="114.7" r="1.25" fill="#ff0000"/>
<polyline points="303.2,146.37 307.14,146.81 311.08,146.26 315.02,146.31 318.96,146.4 322.9,145.92 326.84,146.31 330.78,146.46 334.72,146.65 338.66,145.81 342.6,146.06 346.54,145.81 350.48,146.67 354.42,146.53 358.36,145.75 362.3,146.88 366.24,146.86 370.18,146.48 371.8,146.4 372.3,137.7 374.8,119.5 375.9,118 377.1,116.5 378.6,114.2 380.9,111.2 382.9,108.2 384.7,105.9 387,103.3 389.2,100.6 392,97.6 394.5,93.8 396.8,90.8 405.1,75.6 415.2,62.5 425.3,48.3 435.4,36.2 444.5,26.1 450.6,34.6 452.6,37.7 455.2,39.7 457.7,41.5 460.2,44 463.2,44.7 466,45.8 469,49 472.8,50.3 477.9,51.6 482.9,53.3 488,55.4 493,57.1 498.1,58.4 503.1,59.6 508.2,61.2 513.2,63.4" fill="none" stroke="#7080ff" stroke-width="0.7"/>
<path d="M370.06 147.53L373.54 147.53L371.8 144.92Z" fill="#0010ff"/><path d="M370.56 138.83L374.04 138.83L372.3 136.22Z" fill="#0010ff"/><path d="M373.06 120.63L376.54 120.63L374.8 118.02Z" fill="#0010ff"/><path d="M374.16 119.13L377.64 119.13L375.9 116.52Z" fill="#0010ff"/><path d="M375.36 117.63L378.84 117.63L377.1 115.02Z" fill="#0010ff"/><path d="M376.86 115.33L380.34 115.33L378.6 112.72Z" fill="#0010ff"/><path d="M379.16 112.33L382.64 112.33L380.9 109.72Z" fill="#0010ff"/><path d="M381.16 109.33L384.64 109.33L382.9 106.72Z" fill="#0010ff"/><path d="M382.96 107.03L386.44 107.03L384.7 104.42Z" fill="#0010ff"/><path d="M385.26 104.43L388.74 104.43L387 101.82Z" fill="#0010ff"/><path d="M387.46 101.73L390.94 101.73L389.2 99.12Z" fill="#0010ff"/><path d="M390.26 98.73L393.74 98.73L392 96.12Z" fill="#0010ff"/><path d="M392.76 94.93L396.24 94.93L394.5 92.32Z" fill="#0010ff"/><path d="M395.06 91.93L398.54 91.93L396.8 89.32Z" fill="#0010ff"/><path d="M403.36 76.73L406.84 76.73L405.1 74.12Z" fill="#0010ff"/><path d="M413.46 63.63L416.94 63.63L415.2 61.02Z" fill="#0010ff"/><path d="M423.56 49.43L427.04 49.43L425.3 46.82Z" fill="#0010ff"/><path d="M433.66 37.33L437.14 37.33L435.4 34.72Z" fill="#0010ff"/><path d="M442.76 27.23L446.24 27.23L444.5 24.62Z" fill="#0010ff"/><path d="M395.06 91.93L398.54 91.93L396.8 89.32Z" fill="#0010ff"/><path d="M397.56 87.35L401.04 87.35L399.3 84.74Z" fill="#0010ff"/><path d="M400.06 82.77L403.54 82.77L401.8 80.16Z" fill="#0010ff"/><path d="M402.56 78.2L406.04 78.2L404.3 75.59Z" fill="#0010ff"/><path d="M405.06 74.53L408.54 74.53L406.8 71.92Z" fill="#0010ff"/><path d="M407.56 71.28L411.04 71.28L409.3 68.67Z" fill="#0010ff"/><path d="M410.06 68.04L413.54 68.04L411.8 65.43Z" fill="#0010ff"/><path d="M412.56 64.8L416.04 64.8L414.3 62.19Z" fill="#0010ff"/><path d="M415.06 61.38L418.54 61.38L416.8 58.77Z" fill="#0010ff"/><path d="M417.56 57.87L421.04 57.87L419.3 55.26Z" fill="#0010ff"/><path d="M420.06 54.35L423.54 54.35L421.8 51.74Z" fill="#0010ff"/><path d="M422.56 50.84L426.04 50.84L424.3 48.23Z" fill="#0010ff"/><path d="M425.06 47.63L428.54 47.63L426.8 45.02Z" fill="#0010ff"/><path d="M427.56 44.64L431.04 44.64L429.3 42.03Z" fill="#0010ff"/><path d="M430.06 41.64L433.54 41.64L431.8 39.03Z" fill="#0010ff"/><path d="M432.56 38.65L436.04 38.65L434.3 36.04Z" fill="#0010ff"/><path d="M435.06 35.78L438.54 35.78L436.8 33.17Z" fill="#0010ff"/><path d="M437.56 33L441.04 33L439.3 30.39Z" fill="#0010ff"/><path d="M440.06 30.23L443.54 30.23L441.8 27.62Z" fill="#0010ff"/><path d="M442.56 27.45L446.04 27.45L444.3 24.84Z" fill="#0010ff"/><path d="M448.86 35.73L452.34 35.73L450.6 33.12Z" fill="#0010ff"/><path d="M450.86 38.83L454.34 38.83L452.6 36.22Z" fill="#0010ff"/><path d="M453.46 40.83L456.94 40.83L455.2 38.22Z" fill="#0010ff"/><path d="M455.96 42.63L459.44 42.63L457.7 40.02Z" fill="#0010ff"/><path d="M458.46 45.13L461.94 45.13L460.2 42.52Z" fill="#0010ff"/><path d="M461.46 45.83L464.94 45.83L463.2 43.22Z" fill="#0010ff"/><path d="M464.26 46.93L467.74 46.93L466 44.32Z" fill="#0010ff"/><path d="M467.26 50.13L470.74 50.13L469 47.52Z" fill="#0010ff"/><path d="M471.06 51.43L474.54 51.43L472.8 48.82Z" fill="#0010ff"/><path d="M476.16 52.73L479.64 52.73L477.9 50.12Z" fill="#0010ff"/><path d="M481.16 54.43L484.64 54.43L482.9 51.82Z" fill="#0010ff"/><path d="M486.26 56.53L489.74 56.53L488 53.92Z" fill="#0010ff"/><path d="M491.26 58.23L494.74 58.23L493 55.62Z" fill="#0010ff"/><path d="M496.36 59.53L499.84 59.53L498.1 56.92Z" fill="#0010ff"/><path d="M501.36 60.73L504.84 60.73L503.1 58.12Z" fill="#0010ff"/><path d="M506.46 62.33L509.94 62.33L508.2 59.72Z" fill="#0010ff"/><path d="M511.46 64.53L514.94 64.53L513.2 61.92Z" fill="#0010ff"/>
<rect x="301.47" y="145.57" width="2.1" height="2.1" fill="#000"/><rect x="360.57" y="144.77" width="2.1" height="2.1" fill="#000"/><circle cx="322.98" cy="146.33" r="1.25" fill="#ff0000"/><path d="M348.74 147.8L352.22 147.8L350.48 145.19Z" fill="#0010ff"/><rect x="332.99" y="144.91" width="2.1" height="2.1" fill="#000"/><path d="M317.22 147.54L320.7 147.54L318.96 144.93Z" fill="#0010ff"/><rect x="348.75" y="145.27" width="2.1" height="2.1" fill="#000"/><rect x="352.69" y="145.76" width="2.1" height="2.1" fill="#000"/><rect x="313.29" y="144.97" width="2.1" height="2.1" fill="#000"/><circle cx="334.8" cy="146.72" r="1.25" fill="#ff0000"/><circle cx="311.16" cy="146.17" r="1.25" fill="#ff0000"/><path d="M352.68 147.66L356.16 147.66L354.42 145.05Z" fill="#0010ff"/><rect x="325.11" y="145.02" width="2.1" height="2.1" fill="#000"/><path d="M368.44 147.62L371.92 147.62L370.18 145.01Z" fill="#0010ff"/><circle cx="315.1" cy="146.01" r="1.25" fill="#ff0000"/><circle cx="354.5" cy="146.19" r="1.25" fill="#ff0000"/><rect x="368.45" y="144.93" width="2.1" height="2.1" fill="#000"/><circle cx="358.44" cy="147.09" r="1.25" fill="#ff0000"/><circle cx="350.56" cy="146.53" r="1.25" fill="#ff0000"/><circle cx="346.62" cy="146.17" r="1.25" fill="#ff0000"/><rect x="356.63" y="145.48" width="2.1" height="2.1" fill="#000"/><path d="M340.86 147.2L344.34 147.2L342.6 144.59Z" fill="#0010ff"/><circle cx="307.22" cy="146.8" r="1.25" fill="#ff0000"/><rect x="321.17" y="144.93" width="2.1" height="2.1" fill="#000"/><path d="M356.62 146.88L360.1 146.88L358.36 144.27Z" fill="#0010ff"/><rect x="305.41" y="145.57" width="2.1" height="2.1" fill="#000"/><circle cx="330.86" cy="146.83" r="1.25" fill="#ff0000"/><path d="M344.8 146.94L348.28 146.94L346.54 144.33Z" fill="#0010ff"/><rect x="317.23" y="145.03" width="2.1" height="2.1" fill="#000"/><rect x="364.51" y="145.08" width="2.1" height="2.1" fill="#000"/><rect x="329.05" y="145.63" width="2.1" height="2.1" fill="#000"/><circle cx="342.68" cy="146.79" r="1.25" fill="#ff0000"/><path d="M364.5 147.99L367.98 147.99L366.24 145.38Z" fill="#0010ff"/><path d="M332.98 147.78L336.46 147.78L334.72 145.17Z" fill="#0010ff"/><path d="M321.16 147.05L324.64 147.05L322.9 144.44Z" fill="#0010ff"/><circle cx="366.32" cy="146.98" r="1.25" fill="#ff0000"/><circle cx="362.38" cy="146.07" r="1.25" fill="#ff0000"/><rect x="309.35" y="145.77" width="2.1" height="2.1" fill="#000"/><path d="M305.4 147.94L308.88 147.94L307.14 145.33Z" fill="#0010ff"/><path d="M301.46 147.5L304.94 147.5L303.2 144.89Z" fill="#0010ff"/><circle cx="338.74" cy="146.67" r="1.25" fill="#ff0000"/><path d="M360.56 148.01L364.04 148.01L362.3 145.4Z" fill="#0010ff"/><circle cx="303.28" cy="146.79" r="1.25" fill="#ff0000"/><circle cx="326.92" cy="146.97" r="1.25" fill="#ff0000"/><rect x="344.81" y="145.1" width="2.1" height="2.1" fill="#000"/><path d="M309.34 147.39L312.82 147.39L311.08 144.78Z" fill="#0010ff"/><path d="M325.1 147.45L328.58 147.45L326.84 144.84Z" fill="#0010ff"/><path d="M336.92 146.94L340.4 146.94L338.66 144.33Z" fill="#0010ff"/><circle cx="370.26" cy="146.09" r="1.25" fill="#ff0000"/><rect x="340.87" y="145.01" width="2.1" height="2.1" fill="#000"/><circle cx="319.04" cy="146.45" r="1.25" fill="#ff0000"/><path d="M313.28 147.44L316.76 147.44L315.02 144.83Z" fill="#0010ff"/><path d="M329.04 147.59L332.52 147.59L330.78 144.98Z" fill="#0010ff"/><rect x="336.93" y="145.39" width="2.1" height="2.1" fill="#000"/>
<rect x="317.6" y="61.3" width="56" height="42.9" fill="#fff" stroke="#b8b8b8" stroke-width="0.7" stroke-dasharray="1 0.6"/>
<text x="315.6" y="68.8" text-anchor="end" font-size="4.7" fill="#111" stroke="#111" stroke-width="0.12">0.06</text>
<text x="315.6" y="79.9" text-anchor="end" font-size="4.7" fill="#111" stroke="#111" stroke-width="0.12">0.04</text>
<text x="315.6" y="89.9" text-anchor="end" font-size="4.7" fill="#111" stroke="#111" stroke-width="0.12">0.02</text>
<text x="315.6" y="100.6" text-anchor="end" font-size="4.7" fill="#111" stroke="#111" stroke-width="0.12">0.00</text>
<text x="317.8" y="110.3" text-anchor="middle" font-size="4.7" fill="#111" stroke="#111" stroke-width="0.12">0</text>
<text x="328.1" y="110.3" text-anchor="middle" font-size="4.7" fill="#111" stroke="#111" stroke-width="0.12">100</text>
<text x="338.4" y="110.3" text-anchor="middle" font-size="4.7" fill="#111" stroke="#111" stroke-width="0.12">200</text>
<text x="348.7" y="110.3" text-anchor="middle" font-size="4.7" fill="#111" stroke="#111" stroke-width="0.12">300</text>
<text x="359" y="110.3" text-anchor="middle" font-size="4.7" fill="#111" stroke="#111" stroke-width="0.12">400</text>
<text x="369.3" y="110.3" text-anchor="middle" font-size="4.7" fill="#111" stroke="#111" stroke-width="0.12">500</text>
<path d="M320.7 67.2h10" stroke="#777" stroke-width="0.5"/>
<rect x="325.1" y="66.5" width="1.4" height="1.4" fill="#000"/>
<text x="333" y="69.1" font-size="4.7" fill="#111" stroke="#111" stroke-width="0.12">20 ppm</text>
<polyline points="318.1,94.4 318.9,94.9 320.3,97.5 322,99 324.5,99.1 330.6,99.1 333.7,99.1 336.3,98 341.2,87.8 342.5,87 344,86.3 345.5,84.5 347,80.5 348.5,77.5 350.5,75 352.9,71.5 355.8,67.9 357.9,64.6 358.2,63.8 358.6,63.7 360.7,67.2 362.2,71.5 364.3,75 366.4,75.7 369.2,77.9 371.4,77.9 373.5,77.2" fill="none" stroke="#666" stroke-width="0.5"/>
<rect x="318.05" y="94.05" width="1.7" height="1.7" fill="#000"/><rect x="319.45" y="96.65" width="1.7" height="1.7" fill="#000"/><rect x="321.15" y="98.15" width="1.7" height="1.7" fill="#000"/><rect x="323.65" y="98.25" width="1.7" height="1.7" fill="#000"/><rect x="326.65" y="98.25" width="1.7" height="1.7" fill="#000"/><rect x="329.75" y="98.25" width="1.7" height="1.7" fill="#000"/><rect x="332.85" y="98.25" width="1.7" height="1.7" fill="#000"/><rect x="335.45" y="97.15" width="1.7" height="1.7" fill="#000"/><rect x="340.35" y="86.95" width="1.7" height="1.7" fill="#000"/><rect x="341.45" y="86.27" width="1.7" height="1.7" fill="#000"/><rect x="342.55" y="85.73" width="1.7" height="1.7" fill="#000"/><rect x="343.65" y="84.85" width="1.7" height="1.7" fill="#000"/><rect x="344.75" y="83.38" width="1.7" height="1.7" fill="#000"/><rect x="345.85" y="80.45" width="1.7" height="1.7" fill="#000"/><rect x="346.95" y="78.05" width="1.7" height="1.7" fill="#000"/><rect x="348.05" y="76.15" width="1.7" height="1.7" fill="#000"/><rect x="349.15" y="74.78" width="1.7" height="1.7" fill="#000"/><rect x="350.25" y="73.28" width="1.7" height="1.7" fill="#000"/><rect x="351.35" y="71.67" width="1.7" height="1.7" fill="#000"/><rect x="352.45" y="70.15" width="1.7" height="1.7" fill="#000"/><rect x="353.55" y="68.79" width="1.7" height="1.7" fill="#000"/><rect x="354.65" y="67.42" width="1.7" height="1.7" fill="#000"/><rect x="355.75" y="65.79" width="1.7" height="1.7" fill="#000"/><rect x="356.85" y="64.06" width="1.7" height="1.7" fill="#000"/><rect x="357.75" y="62.85" width="1.7" height="1.7" fill="#000"/><rect x="359.65" y="66.02" width="1.7" height="1.7" fill="#000"/><rect x="361.55" y="70.98" width="1.7" height="1.7" fill="#000"/><rect x="363.45" y="74.15" width="1.7" height="1.7" fill="#000"/><rect x="365.35" y="74.78" width="1.7" height="1.7" fill="#000"/><rect x="367.25" y="76.19" width="1.7" height="1.7" fill="#000"/><rect x="369.15" y="77.05" width="1.7" height="1.7" fill="#000"/><rect x="371.05" y="76.88" width="1.7" height="1.7" fill="#000"/>
<text x="49.8" y="222.1" font-size="8.6" font-weight="bold" fill="#111">Ethanol concentration, ppm</text>
<path d="M49.2 229.5h20" stroke="#9088ff" stroke-width="0.65"/>
<path d="M58.07 227.76L58.07 231.24L60.68 229.5Z" fill="#4030f8"/>
<text x="95.9" y="232.6" text-anchor="end" font-size="8.8">10000</text>
<path d="M49.2 239.95h20" stroke="#6060e0" stroke-width="0.65"/>
<path d="M60.33 238.21L60.33 241.69L57.72 239.95Z" fill="#0000c8"/>
<text x="95.9" y="243.05" text-anchor="end" font-size="8.8">5000</text>
<path d="M49.2 250.4h20" stroke="#70d070" stroke-width="0.65"/>
<circle cx="59.2" cy="250.4" r="1.2" fill="#00a000"/>
<text x="95.9" y="253.5" text-anchor="end" font-size="8.8">2500</text>
<path d="M49.2 260.85h20" stroke="#e090ff" stroke-width="0.65"/>
<path d="M57.46 259.72L60.94 259.72L59.2 262.33Z" fill="#c000f0"/>
<text x="95.9" y="263.95" text-anchor="end" font-size="8.8">1000</text>
<path d="M49.2 271.3h20" stroke="#7080ff" stroke-width="0.65"/>
<path d="M57.46 272.43L60.94 272.43L59.2 269.82Z" fill="#0010ff"/>
<text x="95.9" y="274.4" text-anchor="end" font-size="8.8">500</text>
<path d="M49.2 281.75h20" stroke="#ffa0b8" stroke-width="0.65"/>
<circle cx="59.2" cy="281.75" r="1.2" fill="#ff0000"/>
<text x="95.9" y="284.85" text-anchor="end" font-size="8.8">300</text>
<path d="M49.2 292.2h20" stroke="#8a8a8a" stroke-width="0.65"/>
<rect x="58" y="291" width="2.4" height="2.4" fill="#000"/>
<text x="95.9" y="295.3" text-anchor="end" font-size="8.8">100</text>
<polyline points="43.9,355.76 47.83,356.09 51.77,354.99 55.7,354.77 59.64,355.8 63.57,355.08 67.51,355.1 71.44,355.69 75.38,354.77 79.31,355.75 83.25,355.13 87.18,354.51 91.12,355.66 95.05,355.15 98.99,354.42 102.92,355.45 106.86,355.33 110.79,355.24 111.8,355 112,350.2 120.9,351 140.2,351.8 156.3,352.2 172.4,352.6 175.6,354.3 178.8,355.4 253.5,355.4" fill="none" stroke="#8a8a8a" stroke-width="0.7"/>
<rect x="110.75" y="353.95" width="2.1" height="2.1" fill="#000"/><rect x="114.05" y="349.43" width="2.1" height="2.1" fill="#000"/><rect x="117.35" y="349.73" width="2.1" height="2.1" fill="#000"/><rect x="120.65" y="349.98" width="2.1" height="2.1" fill="#000"/><rect x="123.95" y="350.12" width="2.1" height="2.1" fill="#000"/><rect x="127.25" y="350.26" width="2.1" height="2.1" fill="#000"/><rect x="130.55" y="350.39" width="2.1" height="2.1" fill="#000"/><rect x="133.85" y="350.53" width="2.1" height="2.1" fill="#000"/><rect x="137.15" y="350.67" width="2.1" height="2.1" fill="#000"/><rect x="140.45" y="350.78" width="2.1" height="2.1" fill="#000"/><rect x="143.75" y="350.86" width="2.1" height="2.1" fill="#000"/><rect x="147.05" y="350.95" width="2.1" height="2.1" fill="#000"/><rect x="150.35" y="351.03" width="2.1" height="2.1" fill="#000"/><rect x="153.65" y="351.11" width="2.1" height="2.1" fill="#000"/><rect x="156.95" y="351.19" width="2.1" height="2.1" fill="#000"/><rect x="160.25" y="351.27" width="2.1" height="2.1" fill="#000"/><rect x="163.55" y="351.36" width="2.1" height="2.1" fill="#000"/><rect x="166.85" y="351.44" width="2.1" height="2.1" fill="#000"/><rect x="170.15" y="351.52" width="2.1" height="2.1" fill="#000"/><rect x="173.45" y="352.67" width="2.1" height="2.1" fill="#000"/><rect x="176.75" y="354.01" width="2.1" height="2.1" fill="#000"/><rect x="180.05" y="354.35" width="2.1" height="2.1" fill="#000"/><rect x="183.35" y="354.35" width="2.1" height="2.1" fill="#000"/><rect x="186.65" y="354.35" width="2.1" height="2.1" fill="#000"/><rect x="189.95" y="354.35" width="2.1" height="2.1" fill="#000"/><rect x="193.25" y="354.35" width="2.1" height="2.1" fill="#000"/><rect x="196.55" y="354.35" width="2.1" height="2.1" fill="#000"/><rect x="199.85" y="354.35" width="2.1" height="2.1" fill="#000"/><rect x="203.15" y="354.35" width="2.1" height="2.1" fill="#000"/><rect x="206.45" y="354.35" width="2.1" height="2.1" fill="#000"/><rect x="209.75" y="354.35" width="2.1" height="2.1" fill="#000"/><rect x="213.05" y="354.35" width="2.1" height="2.1" fill="#000"/><rect x="216.35" y="354.35" width="2.1" height="2.1" fill="#000"/><rect x="219.65" y="354.35" width="2.1" height="2.1" fill="#000"/><rect x="222.95" y="354.35" width="2.1" height="2.1" fill="#000"/><rect x="226.25" y="354.35" width="2.1" height="2.1" fill="#000"/><rect x="229.55" y="354.35" width="2.1" height="2.1" fill="#000"/><rect x="232.85" y="354.35" width="2.1" height="2.1" fill="#000"/><rect x="236.15" y="354.35" width="2.1" height="2.1" fill="#000"/><rect x="239.45" y="354.35" width="2.1" height="2.1" fill="#000"/><rect x="242.75" y="354.35" width="2.1" height="2.1" fill="#000"/><rect x="246.05" y="354.35" width="2.1" height="2.1" fill="#000"/><rect x="249.35" y="354.35" width="2.1" height="2.1" fill="#000"/><rect x="110.95" y="349.15" width="2.1" height="2.1" fill="#000"/>
<polyline points="44.25,355.06 48.18,355.03 52.12,355.55 56.05,354.76 59.99,355.73 63.92,355.68 67.86,354.63 71.79,355.5 75.73,355.21 79.66,355.36 83.6,355.78 87.53,355.79 91.47,354.95 95.4,355.52 99.34,355.41 103.27,355.63 107.21,354.28 111.14,355.52 111.8,355 112,347 120.9,347.8 140.2,347.8 156.3,347.3 170.8,347 174,347.3 175.6,349.4 177.2,352.6 179.6,354.3 253.5,354.6" fill="none" stroke="#ffa0b8" stroke-width="0.7"/>
<circle cx="111.8" cy="355" r="1.2" fill="#ff0000"/><circle cx="115.1" cy="347.28" r="1.2" fill="#ff0000"/><circle cx="118.4" cy="347.58" r="1.2" fill="#ff0000"/><circle cx="121.7" cy="347.8" r="1.2" fill="#ff0000"/><circle cx="125" cy="347.8" r="1.2" fill="#ff0000"/><circle cx="128.3" cy="347.8" r="1.2" fill="#ff0000"/><circle cx="131.6" cy="347.8" r="1.2" fill="#ff0000"/><circle cx="134.9" cy="347.8" r="1.2" fill="#ff0000"/><circle cx="138.2" cy="347.8" r="1.2" fill="#ff0000"/><circle cx="141.5" cy="347.76" r="1.2" fill="#ff0000"/><circle cx="144.8" cy="347.66" r="1.2" fill="#ff0000"/><circle cx="148.1" cy="347.55" r="1.2" fill="#ff0000"/><circle cx="151.4" cy="347.45" r="1.2" fill="#ff0000"/><circle cx="154.7" cy="347.35" r="1.2" fill="#ff0000"/><circle cx="158" cy="347.26" r="1.2" fill="#ff0000"/><circle cx="161.3" cy="347.2" r="1.2" fill="#ff0000"/><circle cx="164.6" cy="347.13" r="1.2" fill="#ff0000"/><circle cx="167.9" cy="347.06" r="1.2" fill="#ff0000"/><circle cx="171.2" cy="347.04" r="1.2" fill="#ff0000"/><circle cx="174.5" cy="347.96" r="1.2" fill="#ff0000"/><circle cx="177.8" cy="353.03" r="1.2" fill="#ff0000"/><circle cx="181.1" cy="354.31" r="1.2" fill="#ff0000"/><circle cx="184.4" cy="354.32" r="1.2" fill="#ff0000"/><circle cx="187.7" cy="354.33" r="1.2" fill="#ff0000"/><circle cx="191" cy="354.35" r="1.2" fill="#ff0000"/><circle cx="194.3" cy="354.36" r="1.2" fill="#ff0000"/><circle cx="197.6" cy="354.37" r="1.2" fill="#ff0000"/><circle cx="200.9" cy="354.39" r="1.2" fill="#ff0000"/><circle cx="204.2" cy="354.4" r="1.2" fill="#ff0000"/><circle cx="207.5" cy="354.41" r="1.2" fill="#ff0000"/><circle cx="210.8" cy="354.43" r="1.2" fill="#ff0000"/><circle cx="214.1" cy="354.44" r="1.2" fill="#ff0000"/><circle cx="217.4" cy="354.45" r="1.2" fill="#ff0000"/><circle cx="220.7" cy="354.47" r="1.2" fill="#ff0000"/><circle cx="224" cy="354.48" r="1.2" fill="#ff0000"/><circle cx="227.3" cy="354.49" r="1.2" fill="#ff0000"/><circle cx="230.6" cy="354.51" r="1.2" fill="#ff0000"/><circle cx="233.9" cy="354.52" r="1.2" fill="#ff0000"/><circle cx="237.2" cy="354.53" r="1.2" fill="#ff0000"/><circle cx="240.5" cy="354.55" r="1.2" fill="#ff0000"/><circle cx="243.8" cy="354.56" r="1.2" fill="#ff0000"/><circle cx="247.1" cy="354.57" r="1.2" fill="#ff0000"/><circle cx="250.4" cy="354.59" r="1.2" fill="#ff0000"/><circle cx="112" cy="347" r="1.2" fill="#ff0000"/>
<polyline points="42.94,356.09 46.87,355.94 50.81,355.02 54.74,355.91 58.68,355.55 62.61,354.68 66.55,355.92 70.48,354.91 74.42,354.95 78.35,355.08 82.29,355.28 86.22,354.59 90.16,355.35 94.09,355.52 98.03,355.03 101.96,355.4 105.9,355.13 109.83,355.37 111.8,355 112,344.6 117.7,343.8 132.1,343.8 148.2,343 164.3,342.2 172.4,341.4 175.6,341.4 178,339.8 179.6,345.4 182,351 185.2,353.4 192,353.4 253.5,354" fill="none" stroke="#7080ff" stroke-width="0.7"/>
<path d="M110.13 356.08L113.47 356.08L111.8 353.58Z" fill="#0010ff"/><path d="M113.13 345.29L116.47 345.29L114.8 342.79Z" fill="#0010ff"/><path d="M116.13 344.88L119.47 344.88L117.8 342.38Z" fill="#0010ff"/><path d="M119.13 344.88L122.47 344.88L120.8 342.38Z" fill="#0010ff"/><path d="M122.13 344.88L125.47 344.88L123.8 342.38Z" fill="#0010ff"/><path d="M125.13 344.88L128.47 344.88L126.8 342.38Z" fill="#0010ff"/><path d="M128.13 344.88L131.47 344.88L129.8 342.38Z" fill="#0010ff"/><path d="M131.13 344.85L134.47 344.85L132.8 342.35Z" fill="#0010ff"/><path d="M134.13 344.7L137.47 344.7L135.8 342.2Z" fill="#0010ff"/><path d="M137.13 344.55L140.47 344.55L138.8 342.05Z" fill="#0010ff"/><path d="M140.13 344.4L143.47 344.4L141.8 341.9Z" fill="#0010ff"/><path d="M143.13 344.25L146.47 344.25L144.8 341.75Z" fill="#0010ff"/><path d="M146.13 344.1L149.47 344.1L147.8 341.6Z" fill="#0010ff"/><path d="M149.13 343.95L152.47 343.95L150.8 341.45Z" fill="#0010ff"/><path d="M152.13 343.81L155.47 343.81L153.8 341.3Z" fill="#0010ff"/><path d="M155.13 343.66L158.47 343.66L156.8 341.16Z" fill="#0010ff"/><path d="M158.13 343.51L161.47 343.51L159.8 341.01Z" fill="#0010ff"/><path d="M161.13 343.36L164.47 343.36L162.8 340.86Z" fill="#0010ff"/><path d="M164.13 343.14L167.47 343.14L165.8 340.63Z" fill="#0010ff"/><path d="M167.13 342.84L170.47 342.84L168.8 340.34Z" fill="#0010ff"/><path d="M170.13 342.54L173.47 342.54L171.8 340.04Z" fill="#0010ff"/><path d="M173.13 342.48L176.47 342.48L174.8 339.98Z" fill="#0010ff"/><path d="M176.13 341.02L179.47 341.02L177.8 338.52Z" fill="#0010ff"/><path d="M176.33 340.88L179.67 340.88L178 338.38Z" fill="#0010ff"/><path d="M179.63 350.45L182.97 350.45L181.3 347.95Z" fill="#0010ff"/><path d="M182.93 354.03L186.27 354.03L184.6 351.53Z" fill="#0010ff"/><path d="M186.23 354.48L189.57 354.48L187.9 351.98Z" fill="#0010ff"/><path d="M189.53 354.48L192.87 354.48L191.2 351.98Z" fill="#0010ff"/><path d="M192.83 354.51L196.17 354.51L194.5 352.01Z" fill="#0010ff"/><path d="M196.13 354.54L199.47 354.54L197.8 352.04Z" fill="#0010ff"/><path d="M199.43 354.57L202.77 354.57L201.1 352.07Z" fill="#0010ff"/><path d="M202.73 354.6L206.07 354.6L204.4 352.1Z" fill="#0010ff"/><path d="M206.03 354.64L209.37 354.64L207.7 352.14Z" fill="#0010ff"/><path d="M209.33 354.67L212.67 354.67L211 352.17Z" fill="#0010ff"/><path d="M212.63 354.7L215.97 354.7L214.3 352.2Z" fill="#0010ff"/><path d="M215.93 354.73L219.27 354.73L217.6 352.23Z" fill="#0010ff"/><path d="M219.23 354.77L222.57 354.77L220.9 352.26Z" fill="#0010ff"/><path d="M222.53 354.8L225.87 354.8L224.2 352.3Z" fill="#0010ff"/><path d="M225.83 354.83L229.17 354.83L227.5 352.33Z" fill="#0010ff"/><path d="M229.13 354.86L232.47 354.86L230.8 352.36Z" fill="#0010ff"/><path d="M232.43 354.89L235.77 354.89L234.1 352.39Z" fill="#0010ff"/><path d="M235.73 354.93L239.07 354.93L237.4 352.43Z" fill="#0010ff"/><path d="M239.03 354.96L242.37 354.96L240.7 352.46Z" fill="#0010ff"/><path d="M242.33 354.99L245.67 354.99L244 352.49Z" fill="#0010ff"/><path d="M245.63 355.02L248.97 355.02L247.3 352.52Z" fill="#0010ff"/><path d="M248.93 355.06L252.27 355.06L250.6 352.55Z" fill="#0010ff"/><path d="M110.33 345.68L113.67 345.68L112 343.18Z" fill="#0010ff"/>
<polyline points="44.12,355.95 48.06,355 51.99,356.11 55.93,354.95 59.86,355.58 63.8,354.74 67.73,355.64 71.67,354.75 75.6,355.5 79.54,355.49 83.47,355.51 87.41,355.03 91.34,355.59 95.28,355.72 99.21,354.47 103.15,355 107.08,355.58 111.02,355.24 111.8,355 112,339.8 114.4,337.4 120.9,336.1 132.1,334.1 148.2,332.5 164.3,331.7 175.6,330.9 184.5,330.3 186.8,334.8 188.3,340.2 190.6,345.5 195.2,348.5 201.2,349.2 210.3,350 225.5,350.8 240.6,351.2 253.5,351.5" fill="none" stroke="#e090ff" stroke-width="0.7"/>
<path d="M110.13 353.92L113.47 353.92L111.8 356.42Z" fill="#c000f0"/><path d="M113.13 336.24L116.47 336.24L114.8 338.74Z" fill="#c000f0"/><path d="M116.13 335.64L119.47 335.64L117.8 338.14Z" fill="#c000f0"/><path d="M119.13 335.04L122.47 335.04L120.8 337.54Z" fill="#c000f0"/><path d="M122.13 334.5L125.47 334.5L123.8 337Z" fill="#c000f0"/><path d="M125.13 333.96L128.47 333.96L126.8 336.46Z" fill="#c000f0"/><path d="M128.13 333.43L131.47 333.43L129.8 335.93Z" fill="#c000f0"/><path d="M131.13 332.95L134.47 332.95L132.8 335.45Z" fill="#c000f0"/><path d="M134.13 332.65L137.47 332.65L135.8 335.15Z" fill="#c000f0"/><path d="M137.13 332.35L140.47 332.35L138.8 334.85Z" fill="#c000f0"/><path d="M140.13 332.05L143.47 332.05L141.8 334.55Z" fill="#c000f0"/><path d="M143.13 331.75L146.47 331.75L144.8 334.26Z" fill="#c000f0"/><path d="M146.13 331.46L149.47 331.46L147.8 333.96Z" fill="#c000f0"/><path d="M149.13 331.29L152.47 331.29L150.8 333.79Z" fill="#c000f0"/><path d="M152.13 331.14L155.47 331.14L153.8 333.64Z" fill="#c000f0"/><path d="M155.13 330.99L158.47 330.99L156.8 333.49Z" fill="#c000f0"/><path d="M158.13 330.84L161.47 330.84L159.8 333.34Z" fill="#c000f0"/><path d="M161.13 330.69L164.47 330.69L162.8 333.19Z" fill="#c000f0"/><path d="M164.13 330.51L167.47 330.51L165.8 333.01Z" fill="#c000f0"/><path d="M167.13 330.3L170.47 330.3L168.8 332.8Z" fill="#c000f0"/><path d="M170.13 330.09L173.47 330.09L171.8 332.59Z" fill="#c000f0"/><path d="M173.13 329.87L176.47 329.87L174.8 332.37Z" fill="#c000f0"/><path d="M176.13 329.67L179.47 329.67L177.8 332.17Z" fill="#c000f0"/><path d="M179.13 329.47L182.47 329.47L180.8 331.97Z" fill="#c000f0"/><path d="M182.13 329.26L185.47 329.26L183.8 331.76Z" fill="#c000f0"/><path d="M182.83 329.22L186.17 329.22L184.5 331.72Z" fill="#c000f0"/><path d="M185.13 333.72L188.47 333.72L186.8 336.22Z" fill="#c000f0"/><path d="M186.63 339.12L189.97 339.12L188.3 341.62Z" fill="#c000f0"/><path d="M188.93 344.42L192.27 344.42L190.6 346.92Z" fill="#c000f0"/><path d="M193.53 347.42L196.87 347.42L195.2 349.92Z" fill="#c000f0"/><path d="M199.53 348.12L202.87 348.12L201.2 350.62Z" fill="#c000f0"/><path d="M208.63 348.92L211.97 348.92L210.3 351.42Z" fill="#c000f0"/><path d="M223.83 349.72L227.17 349.72L225.5 352.22Z" fill="#c000f0"/><path d="M238.93 350.12L242.27 350.12L240.6 352.62Z" fill="#c000f0"/><path d="M251.83 350.42L255.17 350.42L253.5 352.92Z" fill="#c000f0"/><path d="M216.23 349.32L219.57 349.32L217.9 351.82Z" fill="#c000f0"/><path d="M231.33 349.92L234.67 349.92L233 352.42Z" fill="#c000f0"/><path d="M245.33 350.32L248.67 350.32L247 352.82Z" fill="#c000f0"/><path d="M110.33 338.72L113.67 338.72L112 341.22Z" fill="#c000f0"/><path d="M112.73 336.32L116.07 336.32L114.4 338.82Z" fill="#c000f0"/>
<polyline points="44.88,356.1 48.81,355.99 52.75,354.82 56.68,355.5 60.62,355.23 64.55,355.35 68.49,354.75 72.42,354.81 76.36,355.13 80.29,354.78 84.23,355.07 88.16,354.44 92.1,354.49 96.03,355.33 99.97,354.89 103.9,354.99 107.84,355.26 111.8,355 112,327.7 113.6,322.9 116.9,318.9 120.9,316.4 127.3,314.5 135.4,312.4 143.4,311.1 149.8,310.3 156.3,308.7 164.3,307.1 172.4,305.8 180.4,305.1 183.8,305.3 185.3,309.8 186.1,315.2 186.8,320.5 188.3,327.3 189.8,332.6 192.1,335.6 195.2,339.1 199.7,339.7 204.2,340.6 209.5,339.7 217.1,342.1 224.7,343.2 233,344.2 240.6,343.9 248.2,343.9 253.5,344.7" fill="none" stroke="#70d070" stroke-width="0.7"/>
<circle cx="111.8" cy="355" r="1.25" fill="#00a000"/><circle cx="114.4" cy="321.93" r="1.25" fill="#00a000"/><circle cx="117" cy="318.84" r="1.25" fill="#00a000"/><circle cx="119.6" cy="317.21" r="1.25" fill="#00a000"/><circle cx="122.2" cy="316.01" r="1.25" fill="#00a000"/><circle cx="124.8" cy="315.24" r="1.25" fill="#00a000"/><circle cx="127.4" cy="314.47" r="1.25" fill="#00a000"/><circle cx="130" cy="313.8" r="1.25" fill="#00a000"/><circle cx="132.6" cy="313.13" r="1.25" fill="#00a000"/><circle cx="135.2" cy="312.45" r="1.25" fill="#00a000"/><circle cx="137.8" cy="312.01" r="1.25" fill="#00a000"/><circle cx="140.4" cy="311.59" r="1.25" fill="#00a000"/><circle cx="143" cy="311.17" r="1.25" fill="#00a000"/><circle cx="145.6" cy="310.83" r="1.25" fill="#00a000"/><circle cx="148.2" cy="310.5" r="1.25" fill="#00a000"/><circle cx="150.8" cy="310.05" r="1.25" fill="#00a000"/><circle cx="153.4" cy="309.41" r="1.25" fill="#00a000"/><circle cx="156" cy="308.77" r="1.25" fill="#00a000"/><circle cx="158.6" cy="308.24" r="1.25" fill="#00a000"/><circle cx="161.2" cy="307.72" r="1.25" fill="#00a000"/><circle cx="163.8" cy="307.2" r="1.25" fill="#00a000"/><circle cx="166.4" cy="306.76" r="1.25" fill="#00a000"/><circle cx="169" cy="306.35" r="1.25" fill="#00a000"/><circle cx="171.6" cy="305.93" r="1.25" fill="#00a000"/><circle cx="174.2" cy="305.64" r="1.25" fill="#00a000"/><circle cx="176.8" cy="305.42" r="1.25" fill="#00a000"/><circle cx="179.4" cy="305.19" r="1.25" fill="#00a000"/><circle cx="182" cy="305.19" r="1.25" fill="#00a000"/><circle cx="183.8" cy="305.3" r="1.25" fill="#00a000"/><circle cx="185.3" cy="309.8" r="1.25" fill="#00a000"/><circle cx="186.1" cy="315.2" r="1.25" fill="#00a000"/><circle cx="186.8" cy="320.5" r="1.25" fill="#00a000"/><circle cx="188.3" cy="327.3" r="1.25" fill="#00a000"/><circle cx="189.8" cy="332.6" r="1.25" fill="#00a000"/><circle cx="192.1" cy="335.6" r="1.25" fill="#00a000"/><circle cx="195.2" cy="339.1" r="1.25" fill="#00a000"/><circle cx="199.7" cy="339.7" r="1.25" fill="#00a000"/><circle cx="204.2" cy="340.6" r="1.25" fill="#00a000"/><circle cx="209.5" cy="339.7" r="1.25" fill="#00a000"/><circle cx="217.1" cy="342.1" r="1.25" fill="#00a000"/><circle cx="224.7" cy="343.2" r="1.25" fill="#00a000"/><circle cx="233" cy="344.2" r="1.25" fill="#00a000"/><circle cx="240.6" cy="343.9" r="1.25" fill="#00a000"/><circle cx="248.2" cy="343.9" r="1.25" fill="#00a000"/><circle cx="253.5" cy="344.7" r="1.25" fill="#00a000"/><circle cx="213.3" cy="341" r="1.25" fill="#00a000"/><circle cx="221" cy="342.7" r="1.25" fill="#00a000"/><circle cx="229" cy="343.7" r="1.25" fill="#00a000"/><circle cx="237" cy="344" r="1.25" fill="#00a000"/><circle cx="244.4" cy="343.9" r="1.25" fill="#00a000"/><circle cx="112" cy="327.7" r="1.25" fill="#00a000"/><circle cx="113.6" cy="322.9" r="1.25" fill="#00a000"/><circle cx="116.9" cy="318.9" r="1.25" fill="#00a000"/>
<polyline points="44.99,354.97 48.93,354.77 52.86,356.1 56.8,354.93 60.73,354.81 64.67,355.51 68.6,355.05 72.54,355.78 76.47,354.83 80.41,355.81 84.34,354.88 88.28,355.24 92.21,355.67 96.15,355.29 100.08,355.59 104.02,355.26 107.95,354.3 111.8,355 112.8,307.9 114.4,303.8 116.9,299.8 120.1,295 124.1,291 128.9,288.6 133.7,287 140.2,284.5 148.2,281.3 156.3,278.1 164.3,275.7 172.4,273.6 180.4,271.7 182,271.3 182.7,281.5 183.8,298.2 184.5,309.1 186.1,313.6 187.6,319.7 190.6,325 195.2,327.3 199.7,328.8 204.2,330.3 210.3,332.1 217.9,332.6 225.5,331.5 233,334.1 242.1,335.6 249.7,336.1 253.5,336.1" fill="none" stroke="#6060e0" stroke-width="0.7"/>
<path d="M112.93 353.26L112.93 356.74L110.32 355Z" fill="#0000c8"/><path d="M115.43 302.32L115.43 305.8L112.82 304.06Z" fill="#0000c8"/><path d="M117.93 298.22L117.93 301.7L115.32 299.96Z" fill="#0000c8"/><path d="M120.43 294.46L120.43 297.94L117.82 296.2Z" fill="#0000c8"/><path d="M122.93 291.56L122.93 295.04L120.32 293.3Z" fill="#0000c8"/><path d="M125.43 289.16L125.43 292.64L122.82 290.9Z" fill="#0000c8"/><path d="M127.93 287.91L127.93 291.39L125.32 289.65Z" fill="#0000c8"/><path d="M130.43 286.73L130.43 290.21L127.82 288.47Z" fill="#0000c8"/><path d="M132.93 285.89L132.93 289.37L130.32 287.63Z" fill="#0000c8"/><path d="M135.43 285.03L135.43 288.51L132.82 286.77Z" fill="#0000c8"/><path d="M137.93 284.07L137.93 287.55L135.32 285.81Z" fill="#0000c8"/><path d="M140.43 283.11L140.43 286.59L137.82 284.85Z" fill="#0000c8"/><path d="M142.93 282.12L142.93 285.6L140.32 283.86Z" fill="#0000c8"/><path d="M145.43 281.12L145.43 284.6L142.82 282.86Z" fill="#0000c8"/><path d="M147.93 280.12L147.93 283.6L145.32 281.86Z" fill="#0000c8"/><path d="M150.43 279.13L150.43 282.61L147.82 280.87Z" fill="#0000c8"/><path d="M152.93 278.14L152.93 281.62L150.32 279.88Z" fill="#0000c8"/><path d="M155.43 277.15L155.43 280.63L152.82 278.89Z" fill="#0000c8"/><path d="M157.93 276.21L157.93 279.69L155.32 277.95Z" fill="#0000c8"/><path d="M160.43 275.46L160.43 278.94L157.82 277.2Z" fill="#0000c8"/><path d="M162.93 274.71L162.93 278.19L160.32 276.45Z" fill="#0000c8"/><path d="M165.43 273.96L165.43 277.44L162.82 275.7Z" fill="#0000c8"/><path d="M167.93 273.31L167.93 276.79L165.32 275.05Z" fill="#0000c8"/><path d="M170.43 272.66L170.43 276.14L167.82 274.4Z" fill="#0000c8"/><path d="M172.93 272.02L172.93 275.5L170.32 273.76Z" fill="#0000c8"/><path d="M175.43 271.41L175.43 274.89L172.82 273.15Z" fill="#0000c8"/><path d="M177.93 270.81L177.93 274.3L175.32 272.56Z" fill="#0000c8"/><path d="M180.43 270.22L180.43 273.7L177.82 271.96Z" fill="#0000c8"/><path d="M182.93 269.61L182.93 273.09L180.32 271.35Z" fill="#0000c8"/><path d="M183.13 269.56L183.13 273.04L180.52 271.3Z" fill="#0000c8"/><path d="M183.83 279.76L183.83 283.24L181.22 281.5Z" fill="#0000c8"/><path d="M184.93 296.46L184.93 299.94L182.32 298.2Z" fill="#0000c8"/><path d="M185.63 307.36L185.63 310.84L183.02 309.1Z" fill="#0000c8"/><path d="M187.23 311.86L187.23 315.34L184.62 313.6Z" fill="#0000c8"/><path d="M188.73 317.96L188.73 321.44L186.12 319.7Z" fill="#0000c8"/><path d="M191.73 323.26L191.73 326.74L189.12 325Z" fill="#0000c8"/><path d="M196.33 325.56L196.33 329.04L193.72 327.3Z" fill="#0000c8"/><path d="M200.83 327.06L200.83 330.54L198.22 328.8Z" fill="#0000c8"/><path d="M205.33 328.56L205.33 332.04L202.72 330.3Z" fill="#0000c8"/><path d="M211.43 330.36L211.43 333.84L208.82 332.1Z" fill="#0000c8"/><path d="M219.03 330.86L219.03 334.34L216.42 332.6Z" fill="#0000c8"/><path d="M226.63 329.76L226.63 333.24L224.02 331.5Z" fill="#0000c8"/><path d="M234.13 332.36L234.13 335.84L231.52 334.1Z" fill="#0000c8"/><path d="M243.23 333.86L243.23 337.34L240.62 335.6Z" fill="#0000c8"/><path d="M250.83 334.36L250.83 337.84L248.22 336.1Z" fill="#0000c8"/><path d="M254.63 334.36L254.63 337.84L252.02 336.1Z" fill="#0000c8"/><path d="M113.93 306.16L113.93 309.64L111.32 307.9Z" fill="#0000c8"/><path d="M115.53 302.06L115.53 305.54L112.92 303.8Z" fill="#0000c8"/><path d="M118.03 298.06L118.03 301.54L115.42 299.8Z" fill="#0000c8"/><path d="M194.03 324.46L194.03 327.94L191.42 326.2Z" fill="#0000c8"/><path d="M198.63 326.26L198.63 329.74L196.02 328Z" fill="#0000c8"/><path d="M203.13 327.86L203.13 331.34L200.52 329.6Z" fill="#0000c8"/><path d="M208.43 329.46L208.43 332.94L205.82 331.2Z" fill="#0000c8"/><path d="M215.13 330.66L215.13 334.14L212.52 332.4Z" fill="#0000c8"/><path d="M222.83 330.26L222.83 333.74L220.22 332Z" fill="#0000c8"/><path d="M230.43 331.06L230.43 334.54L227.82 332.8Z" fill="#0000c8"/><path d="M238.63 333.16L238.63 336.64L236.02 334.9Z" fill="#0000c8"/><path d="M247.03 334.16L247.03 337.64L244.42 335.9Z" fill="#0000c8"/>
<polyline points="42.18,355.76 46.12,355.65 50.05,355.4 53.99,355 57.92,355.77 61.86,355.76 65.79,355.31 69.73,355.27 73.66,354.86 77.6,354.5 81.53,354.98 85.47,355.24 89.4,354.49 93.34,355.47 97.27,354.65 101.21,354.62 105.14,354.32 109.08,355.62 111.8,355 112.5,313.5 112.5,291 113.6,281.3 114.4,277.3 116,270 118.5,264.4 120.1,262.3 124.1,257.5 128.9,252.6 133.7,248.6 140.2,243.8 148.2,239 156.3,234.1 162.7,230.1 169.2,226.1 175.6,222.1 179.6,220.5 185.2,216.1 186.4,216.1 186.9,238.2 187.3,261.8 188.3,270.9 189.1,276.2 189.8,280.8 190.9,283 191.8,285.3 193.6,293.2 195.5,299.2 197.9,302 201.2,305 204.2,307.3 208,309.2 215.6,310.3 223.6,311.8 231.5,316.7 239.1,317.4 246.7,318.9 252.7,319.7" fill="none" stroke="#9088ff" stroke-width="0.7"/>
<path d="M110.67 353.26L110.67 356.74L113.28 355Z" fill="#4030f8"/><path d="M111.37 311.76L111.37 315.24L113.98 313.5Z" fill="#4030f8"/><path d="M111.37 289.26L111.37 292.74L113.98 291Z" fill="#4030f8"/><path d="M112.47 279.56L112.47 283.04L115.08 281.3Z" fill="#4030f8"/><path d="M113.27 275.56L113.27 279.04L115.88 277.3Z" fill="#4030f8"/><path d="M114.87 268.26L114.87 271.74L117.48 270Z" fill="#4030f8"/><path d="M117.37 262.66L117.37 266.14L119.98 264.4Z" fill="#4030f8"/><path d="M118.97 260.56L118.97 264.04L121.58 262.3Z" fill="#4030f8"/><path d="M122.97 255.76L122.97 259.24L125.58 257.5Z" fill="#4030f8"/><path d="M127.77 250.86L127.77 254.34L130.38 252.6Z" fill="#4030f8"/><path d="M132.57 246.86L132.57 250.34L135.18 248.6Z" fill="#4030f8"/><path d="M139.07 242.06L139.07 245.54L141.68 243.8Z" fill="#4030f8"/><path d="M147.07 237.26L147.07 240.74L149.68 239Z" fill="#4030f8"/><path d="M155.17 232.36L155.17 235.84L157.78 234.1Z" fill="#4030f8"/><path d="M161.57 228.36L161.57 231.84L164.18 230.1Z" fill="#4030f8"/><path d="M168.07 224.36L168.07 227.84L170.68 226.1Z" fill="#4030f8"/><path d="M174.47 220.36L174.47 223.84L177.08 222.1Z" fill="#4030f8"/><path d="M178.47 218.76L178.47 222.24L181.08 220.5Z" fill="#4030f8"/><path d="M184.07 214.36L184.07 217.84L186.68 216.1Z" fill="#4030f8"/><path d="M185.27 214.36L185.27 217.84L187.88 216.1Z" fill="#4030f8"/><path d="M118.97 260.56L118.97 264.04L121.58 262.3Z" fill="#4030f8"/><path d="M122.17 256.72L122.17 260.2L124.78 258.46Z" fill="#4030f8"/><path d="M125.37 253.31L125.37 256.79L127.98 255.05Z" fill="#4030f8"/><path d="M128.57 250.19L128.57 253.67L131.18 251.93Z" fill="#4030f8"/><path d="M131.77 247.53L131.77 251.01L134.38 249.27Z" fill="#4030f8"/><path d="M134.97 245.09L134.97 248.57L137.58 246.83Z" fill="#4030f8"/><path d="M138.17 242.72L138.17 246.2L140.78 244.46Z" fill="#4030f8"/><path d="M141.37 240.68L141.37 244.16L143.98 242.42Z" fill="#4030f8"/><path d="M144.57 238.76L144.57 242.24L147.18 240.5Z" fill="#4030f8"/><path d="M147.77 236.84L147.77 240.32L150.38 238.58Z" fill="#4030f8"/><path d="M150.97 234.9L150.97 238.38L153.58 236.64Z" fill="#4030f8"/><path d="M154.17 232.96L154.17 236.44L156.78 234.7Z" fill="#4030f8"/><path d="M157.37 230.98L157.37 234.47L159.98 232.72Z" fill="#4030f8"/><path d="M160.57 228.98L160.57 232.47L163.18 230.72Z" fill="#4030f8"/><path d="M163.77 227.01L163.77 230.49L166.38 228.75Z" fill="#4030f8"/><path d="M166.97 225.04L166.97 228.52L169.58 226.78Z" fill="#4030f8"/><path d="M170.17 223.05L170.17 226.53L172.78 224.79Z" fill="#4030f8"/><path d="M173.37 221.05L173.37 224.53L175.98 222.79Z" fill="#4030f8"/><path d="M176.57 219.52L176.57 223L179.18 221.26Z" fill="#4030f8"/><path d="M179.77 217.74L179.77 221.22L182.38 219.48Z" fill="#4030f8"/><path d="M182.97 215.22L182.97 218.7L185.58 216.96Z" fill="#4030f8"/><path d="M185.27 214.36L185.27 217.84L187.88 216.1Z" fill="#4030f8"/><path d="M185.77 236.46L185.77 239.94L188.38 238.2Z" fill="#4030f8"/><path d="M186.17 260.06L186.17 263.54L188.78 261.8Z" fill="#4030f8"/><path d="M187.17 269.16L187.17 272.64L189.78 270.9Z" fill="#4030f8"/><path d="M187.97 274.46L187.97 277.94L190.58 276.2Z" fill="#4030f8"/><path d="M188.67 279.06L188.67 282.54L191.28 280.8Z" fill="#4030f8"/><path d="M189.77 281.26L189.77 284.74L192.38 283Z" fill="#4030f8"/><path d="M190.67 283.56L190.67 287.04L193.28 285.3Z" fill="#4030f8"/><path d="M192.47 291.46L192.47 294.94L195.08 293.2Z" fill="#4030f8"/><path d="M194.37 297.46L194.37 300.94L196.98 299.2Z" fill="#4030f8"/><path d="M196.77 300.26L196.77 303.74L199.38 302Z" fill="#4030f8"/><path d="M200.07 303.26L200.07 306.74L202.68 305Z" fill="#4030f8"/><path d="M203.07 305.56L203.07 309.04L205.68 307.3Z" fill="#4030f8"/><path d="M206.87 307.46L206.87 310.94L209.48 309.2Z" fill="#4030f8"/><path d="M214.47 308.56L214.47 312.04L217.08 310.3Z" fill="#4030f8"/><path d="M222.47 310.06L222.47 313.54L225.08 311.8Z" fill="#4030f8"/><path d="M230.37 314.96L230.37 318.44L232.98 316.7Z" fill="#4030f8"/><path d="M237.97 315.66L237.97 319.14L240.58 317.4Z" fill="#4030f8"/><path d="M245.57 317.16L245.57 320.64L248.18 318.9Z" fill="#4030f8"/><path d="M251.57 317.96L251.57 321.44L254.18 319.7Z" fill="#4030f8"/>
<rect x="42.85" y="354.71" width="2.1" height="2.1" fill="#000"/><rect x="46.78" y="355.04" width="2.1" height="2.1" fill="#000"/><rect x="50.72" y="353.94" width="2.1" height="2.1" fill="#000"/><rect x="54.65" y="353.72" width="2.1" height="2.1" fill="#000"/><rect x="58.59" y="354.75" width="2.1" height="2.1" fill="#000"/><rect x="62.52" y="354.03" width="2.1" height="2.1" fill="#000"/><rect x="66.46" y="354.05" width="2.1" height="2.1" fill="#000"/><rect x="70.39" y="354.64" width="2.1" height="2.1" fill="#000"/><rect x="74.33" y="353.72" width="2.1" height="2.1" fill="#000"/><rect x="78.26" y="354.7" width="2.1" height="2.1" fill="#000"/><rect x="82.2" y="354.08" width="2.1" height="2.1" fill="#000"/><rect x="86.13" y="353.46" width="2.1" height="2.1" fill="#000"/><rect x="90.07" y="354.61" width="2.1" height="2.1" fill="#000"/><rect x="94" y="354.1" width="2.1" height="2.1" fill="#000"/><rect x="97.94" y="353.37" width="2.1" height="2.1" fill="#000"/><rect x="101.87" y="354.4" width="2.1" height="2.1" fill="#000"/><rect x="105.81" y="354.28" width="2.1" height="2.1" fill="#000"/><rect x="109.74" y="354.19" width="2.1" height="2.1" fill="#000"/><circle cx="44.25" cy="355.06" r="1.2" fill="#ff0000"/><circle cx="48.18" cy="355.03" r="1.2" fill="#ff0000"/><circle cx="52.12" cy="355.55" r="1.2" fill="#ff0000"/><circle cx="56.05" cy="354.76" r="1.2" fill="#ff0000"/><circle cx="59.99" cy="355.73" r="1.2" fill="#ff0000"/><circle cx="63.92" cy="355.68" r="1.2" fill="#ff0000"/><circle cx="67.86" cy="354.63" r="1.2" fill="#ff0000"/><circle cx="71.79" cy="355.5" r="1.2" fill="#ff0000"/><circle cx="75.73" cy="355.21" r="1.2" fill="#ff0000"/><circle cx="79.66" cy="355.36" r="1.2" fill="#ff0000"/><circle cx="83.6" cy="355.78" r="1.2" fill="#ff0000"/><circle cx="87.53" cy="355.79" r="1.2" fill="#ff0000"/><circle cx="91.47" cy="354.95" r="1.2" fill="#ff0000"/><circle cx="95.4" cy="355.52" r="1.2" fill="#ff0000"/><circle cx="99.34" cy="355.41" r="1.2" fill="#ff0000"/><circle cx="103.27" cy="355.63" r="1.2" fill="#ff0000"/><circle cx="107.21" cy="354.28" r="1.2" fill="#ff0000"/><circle cx="111.14" cy="355.52" r="1.2" fill="#ff0000"/><path d="M41.27 357.17L44.6 357.17L42.94 354.67Z" fill="#0010ff"/><path d="M45.2 357.02L48.54 357.02L46.87 354.52Z" fill="#0010ff"/><path d="M49.14 356.1L52.47 356.1L50.81 353.6Z" fill="#0010ff"/><path d="M53.07 356.99L56.41 356.99L54.74 354.49Z" fill="#0010ff"/><path d="M57.01 356.63L60.34 356.63L58.68 354.13Z" fill="#0010ff"/><path d="M60.94 355.76L64.28 355.76L62.61 353.26Z" fill="#0010ff"/><path d="M64.88 357L68.21 357L66.55 354.5Z" fill="#0010ff"/><path d="M68.81 355.99L72.15 355.99L70.48 353.49Z" fill="#0010ff"/><path d="M72.75 356.03L76.08 356.03L74.42 353.53Z" fill="#0010ff"/><path d="M76.68 356.16L80.02 356.16L78.35 353.66Z" fill="#0010ff"/><path d="M80.62 356.36L83.95 356.36L82.29 353.86Z" fill="#0010ff"/><path d="M84.55 355.68L87.89 355.68L86.22 353.18Z" fill="#0010ff"/><path d="M88.49 356.43L91.82 356.43L90.16 353.93Z" fill="#0010ff"/><path d="M92.42 356.6L95.76 356.6L94.09 354.1Z" fill="#0010ff"/><path d="M96.36 356.12L99.69 356.12L98.03 353.62Z" fill="#0010ff"/><path d="M100.29 356.48L103.63 356.48L101.96 353.98Z" fill="#0010ff"/><path d="M104.23 356.21L107.56 356.21L105.9 353.71Z" fill="#0010ff"/><path d="M108.16 356.46L111.5 356.46L109.83 353.95Z" fill="#0010ff"/><path d="M42.46 354.87L45.79 354.87L44.12 357.37Z" fill="#c000f0"/><path d="M46.39 353.92L49.73 353.92L48.06 356.42Z" fill="#c000f0"/><path d="M50.33 355.02L53.66 355.02L51.99 357.53Z" fill="#c000f0"/><path d="M54.26 353.87L57.6 353.87L55.93 356.37Z" fill="#c000f0"/><path d="M58.2 354.5L61.53 354.5L59.86 357Z" fill="#c000f0"/><path d="M62.13 353.65L65.47 353.65L63.8 356.16Z" fill="#c000f0"/><path d="M66.07 354.55L69.4 354.55L67.73 357.05Z" fill="#c000f0"/><path d="M70 353.67L73.34 353.67L71.67 356.17Z" fill="#c000f0"/><path d="M73.94 354.41L77.27 354.41L75.6 356.92Z" fill="#c000f0"/><path d="M77.87 354.41L81.21 354.41L79.54 356.91Z" fill="#c000f0"/><path d="M81.81 354.43L85.14 354.43L83.47 356.93Z" fill="#c000f0"/><path d="M85.74 353.94L89.08 353.94L87.41 356.44Z" fill="#c000f0"/><path d="M89.68 354.5L93.01 354.5L91.34 357Z" fill="#c000f0"/><path d="M93.61 354.64L96.95 354.64L95.28 357.14Z" fill="#c000f0"/><path d="M97.55 353.39L100.88 353.39L99.21 355.89Z" fill="#c000f0"/><path d="M101.48 353.91L104.82 353.91L103.15 356.41Z" fill="#c000f0"/><path d="M105.42 354.5L108.75 354.5L107.08 357Z" fill="#c000f0"/><path d="M109.35 354.16L112.69 354.16L111.02 356.66Z" fill="#c000f0"/><circle cx="44.88" cy="356.1" r="1.25" fill="#00a000"/><circle cx="48.81" cy="355.99" r="1.25" fill="#00a000"/><circle cx="52.75" cy="354.82" r="1.25" fill="#00a000"/><circle cx="56.68" cy="355.5" r="1.25" fill="#00a000"/><circle cx="60.62" cy="355.23" r="1.25" fill="#00a000"/><circle cx="64.55" cy="355.35" r="1.25" fill="#00a000"/><circle cx="68.49" cy="354.75" r="1.25" fill="#00a000"/><circle cx="72.42" cy="354.81" r="1.25" fill="#00a000"/><circle cx="76.36" cy="355.13" r="1.25" fill="#00a000"/><circle cx="80.29" cy="354.78" r="1.25" fill="#00a000"/><circle cx="84.23" cy="355.07" r="1.25" fill="#00a000"/><circle cx="88.16" cy="354.44" r="1.25" fill="#00a000"/><circle cx="92.1" cy="354.49" r="1.25" fill="#00a000"/><circle cx="96.03" cy="355.33" r="1.25" fill="#00a000"/><circle cx="99.97" cy="354.89" r="1.25" fill="#00a000"/><circle cx="103.9" cy="354.99" r="1.25" fill="#00a000"/><circle cx="107.84" cy="355.26" r="1.25" fill="#00a000"/><path d="M46.12 353.23L46.12 356.71L43.51 354.97Z" fill="#0000c8"/><path d="M50.06 353.03L50.06 356.51L47.45 354.77Z" fill="#0000c8"/><path d="M53.99 354.36L53.99 357.84L51.38 356.1Z" fill="#0000c8"/><path d="M57.93 353.19L57.93 356.67L55.32 354.93Z" fill="#0000c8"/><path d="M61.86 353.07L61.86 356.55L59.25 354.81Z" fill="#0000c8"/><path d="M65.8 353.77L65.8 357.25L63.19 355.51Z" fill="#0000c8"/><path d="M69.73 353.31L69.73 356.79L67.12 355.05Z" fill="#0000c8"/><path d="M73.67 354.04L73.67 357.52L71.06 355.78Z" fill="#0000c8"/><path d="M77.6 353.09L77.6 356.57L74.99 354.83Z" fill="#0000c8"/><path d="M81.54 354.07L81.54 357.55L78.93 355.81Z" fill="#0000c8"/><path d="M85.47 353.14L85.47 356.62L82.86 354.88Z" fill="#0000c8"/><path d="M89.41 353.5L89.41 356.98L86.8 355.24Z" fill="#0000c8"/><path d="M93.34 353.93L93.34 357.41L90.73 355.67Z" fill="#0000c8"/><path d="M97.28 353.55L97.28 357.03L94.67 355.29Z" fill="#0000c8"/><path d="M101.21 353.85L101.21 357.33L98.6 355.59Z" fill="#0000c8"/><path d="M105.15 353.52L105.15 357L102.54 355.26Z" fill="#0000c8"/><path d="M109.08 352.56L109.08 356.04L106.47 354.3Z" fill="#0000c8"/><path d="M41.05 354.02L41.05 357.5L43.66 355.76Z" fill="#4030f8"/><path d="M44.99 353.91L44.99 357.39L47.6 355.65Z" fill="#4030f8"/><path d="M48.92 353.66L48.92 357.14L51.53 355.4Z" fill="#4030f8"/><path d="M52.86 353.26L52.86 356.74L55.47 355Z" fill="#4030f8"/><path d="M56.79 354.03L56.79 357.51L59.4 355.77Z" fill="#4030f8"/><path d="M60.73 354.02L60.73 357.5L63.34 355.76Z" fill="#4030f8"/><path d="M64.66 353.57L64.66 357.05L67.27 355.31Z" fill="#4030f8"/><path d="M68.6 353.53L68.6 357.01L71.21 355.27Z" fill="#4030f8"/><path d="M72.53 353.12L72.53 356.6L75.14 354.86Z" fill="#4030f8"/><path d="M76.47 352.76L76.47 356.24L79.08 354.5Z" fill="#4030f8"/><path d="M80.4 353.24L80.4 356.72L83.01 354.98Z" fill="#4030f8"/><path d="M84.34 353.5L84.34 356.98L86.95 355.24Z" fill="#4030f8"/><path d="M88.27 352.75L88.27 356.23L90.88 354.49Z" fill="#4030f8"/><path d="M92.21 353.73L92.21 357.21L94.82 355.47Z" fill="#4030f8"/><path d="M96.14 352.91L96.14 356.39L98.75 354.65Z" fill="#4030f8"/><path d="M100.08 352.88L100.08 356.36L102.69 354.62Z" fill="#4030f8"/><path d="M104.01 352.58L104.01 356.06L106.62 354.32Z" fill="#4030f8"/><path d="M107.95 353.88L107.95 357.36L110.56 355.62Z" fill="#4030f8"/>
<text x="309.8" y="222.1" font-size="8.6" font-weight="bold" fill="#111">Acetone concentration, ppm</text>
<path d="M309.2 229.5h20" stroke="#6060e0" stroke-width="0.65"/>
<path d="M320.33 227.76L320.33 231.24L317.72 229.5Z" fill="#0000c8"/>
<text x="355.9" y="232.6" text-anchor="end" font-size="8.8">22000</text>
<path d="M309.2 239.95h20" stroke="#70d070" stroke-width="0.65"/>
<circle cx="319.2" cy="239.95" r="1.2" fill="#00a000"/>
<text x="355.9" y="243.05" text-anchor="end" font-size="8.8">15000</text>
<path d="M309.2 250.4h20" stroke="#e090ff" stroke-width="0.65"/>
<path d="M317.46 249.27L320.94 249.27L319.2 251.88Z" fill="#c000f0"/>
<text x="355.9" y="253.5" text-anchor="end" font-size="8.8">9000</text>
<path d="M309.2 260.85h20" stroke="#7080ff" stroke-width="0.65"/>
<rect x="318" y="259.65" width="2.4" height="2.4" fill="#0010ff"/>
<text x="355.9" y="263.95" text-anchor="end" font-size="8.8">5500</text>
<path d="M309.2 271.3h20" stroke="#ffa0b8" stroke-width="0.65"/>
<rect x="318" y="270.1" width="2.4" height="2.4" fill="#ff0000"/>
<text x="355.9" y="274.4" text-anchor="end" font-size="8.8">2900</text>
<path d="M309.2 281.75h20" stroke="#8a8a8a" stroke-width="0.65"/>
<rect x="318" y="280.55" width="2.4" height="2.4" fill="#000"/>
<text x="355.9" y="284.85" text-anchor="end" font-size="8.8">790</text>
<polyline points="303.55,353.98 307.49,354.12 311.43,354.42 315.37,353.87 319.31,354.84 323.25,354.52 327.19,354.89 331.13,355.05 335.07,355.41 339.01,354.77 342.95,355.04 346.89,355.61 350.83,355.6 354.77,355.95 358.71,355.64 362.65,356.5 366.59,355.52 370.53,356.53 371.5,356.2 372.8,319 381.3,319.3 397.6,320.6 410.6,322.2 412.2,323 413,318.6 418.9,318.8 425.3,319.1 431.6,319.1 436.6,319.5 437.9,320.7 439.1,326.4 441,340.3 442.9,346.6 445.5,348.5 450.5,349.1 454.4,349.8 468.7,348.8 477.4,350.7 484.5,351.3 493.2,351.3 501.8,351.3 507.5,351 513.3,351.7" fill="none" stroke="#ffa0b8" stroke-width="0.7"/>
<rect x="370.5" y="355.2" width="2" height="2" fill="#ff0000"/><rect x="371.8" y="318" width="2" height="2" fill="#ff0000"/><rect x="380.3" y="318.3" width="2" height="2" fill="#ff0000"/><rect x="396.6" y="319.6" width="2" height="2" fill="#ff0000"/><rect x="409.6" y="321.2" width="2" height="2" fill="#ff0000"/><rect x="411.2" y="322" width="2" height="2" fill="#ff0000"/><rect x="412" y="317.6" width="2" height="2" fill="#ff0000"/><rect x="417.9" y="317.8" width="2" height="2" fill="#ff0000"/><rect x="424.3" y="318.1" width="2" height="2" fill="#ff0000"/><rect x="430.6" y="318.1" width="2" height="2" fill="#ff0000"/><rect x="435.6" y="318.5" width="2" height="2" fill="#ff0000"/><rect x="436.9" y="319.7" width="2" height="2" fill="#ff0000"/><rect x="438.1" y="325.4" width="2" height="2" fill="#ff0000"/><rect x="440" y="339.3" width="2" height="2" fill="#ff0000"/><rect x="441.9" y="345.6" width="2" height="2" fill="#ff0000"/><rect x="444.5" y="347.5" width="2" height="2" fill="#ff0000"/><rect x="449.5" y="348.1" width="2" height="2" fill="#ff0000"/><rect x="453.4" y="348.8" width="2" height="2" fill="#ff0000"/><rect x="467.7" y="347.8" width="2" height="2" fill="#ff0000"/><rect x="476.4" y="349.7" width="2" height="2" fill="#ff0000"/><rect x="483.5" y="350.3" width="2" height="2" fill="#ff0000"/><rect x="492.2" y="350.3" width="2" height="2" fill="#ff0000"/><rect x="500.8" y="350.3" width="2" height="2" fill="#ff0000"/><rect x="506.5" y="350" width="2" height="2" fill="#ff0000"/><rect x="512.3" y="350.7" width="2" height="2" fill="#ff0000"/><rect x="371.8" y="318" width="2" height="2" fill="#ff0000"/><rect x="373.5" y="318.06" width="2" height="2" fill="#ff0000"/><rect x="375.2" y="318.12" width="2" height="2" fill="#ff0000"/><rect x="376.9" y="318.18" width="2" height="2" fill="#ff0000"/><rect x="378.6" y="318.24" width="2" height="2" fill="#ff0000"/><rect x="380.3" y="318.3" width="2" height="2" fill="#ff0000"/><rect x="382" y="318.44" width="2" height="2" fill="#ff0000"/><rect x="383.7" y="318.57" width="2" height="2" fill="#ff0000"/><rect x="385.4" y="318.71" width="2" height="2" fill="#ff0000"/><rect x="387.1" y="318.84" width="2" height="2" fill="#ff0000"/><rect x="388.8" y="318.98" width="2" height="2" fill="#ff0000"/><rect x="390.5" y="319.11" width="2" height="2" fill="#ff0000"/><rect x="392.2" y="319.25" width="2" height="2" fill="#ff0000"/><rect x="393.9" y="319.38" width="2" height="2" fill="#ff0000"/><rect x="395.6" y="319.52" width="2" height="2" fill="#ff0000"/><rect x="397.3" y="319.69" width="2" height="2" fill="#ff0000"/><rect x="399" y="319.9" width="2" height="2" fill="#ff0000"/><rect x="400.7" y="320.1" width="2" height="2" fill="#ff0000"/><rect x="402.4" y="320.31" width="2" height="2" fill="#ff0000"/><rect x="404.1" y="320.52" width="2" height="2" fill="#ff0000"/><rect x="405.8" y="320.73" width="2" height="2" fill="#ff0000"/><rect x="407.5" y="320.94" width="2" height="2" fill="#ff0000"/><rect x="409.2" y="321.15" width="2" height="2" fill="#ff0000"/><rect x="410.9" y="321.85" width="2" height="2" fill="#ff0000"/><rect x="412" y="317.6" width="2" height="2" fill="#ff0000"/><rect x="413.7" y="317.66" width="2" height="2" fill="#ff0000"/><rect x="415.4" y="317.72" width="2" height="2" fill="#ff0000"/><rect x="417.1" y="317.77" width="2" height="2" fill="#ff0000"/><rect x="418.8" y="317.84" width="2" height="2" fill="#ff0000"/><rect x="420.5" y="317.92" width="2" height="2" fill="#ff0000"/><rect x="422.2" y="318" width="2" height="2" fill="#ff0000"/><rect x="423.9" y="318.08" width="2" height="2" fill="#ff0000"/><rect x="425.6" y="318.1" width="2" height="2" fill="#ff0000"/><rect x="427.3" y="318.1" width="2" height="2" fill="#ff0000"/><rect x="429" y="318.1" width="2" height="2" fill="#ff0000"/><rect x="430.7" y="318.11" width="2" height="2" fill="#ff0000"/><rect x="432.4" y="318.24" width="2" height="2" fill="#ff0000"/><rect x="434.1" y="318.38" width="2" height="2" fill="#ff0000"/><rect x="444.5" y="347.5" width="2" height="2" fill="#ff0000"/><rect x="448.8" y="348.02" width="2" height="2" fill="#ff0000"/><rect x="453.1" y="348.75" width="2" height="2" fill="#ff0000"/><rect x="457.4" y="348.52" width="2" height="2" fill="#ff0000"/><rect x="461.7" y="348.22" width="2" height="2" fill="#ff0000"/><rect x="466" y="347.92" width="2" height="2" fill="#ff0000"/><rect x="470.3" y="348.37" width="2" height="2" fill="#ff0000"/><rect x="474.6" y="349.31" width="2" height="2" fill="#ff0000"/><rect x="478.9" y="349.91" width="2" height="2" fill="#ff0000"/><rect x="483.2" y="350.27" width="2" height="2" fill="#ff0000"/><rect x="487.5" y="350.3" width="2" height="2" fill="#ff0000"/><rect x="491.8" y="350.3" width="2" height="2" fill="#ff0000"/><rect x="496.1" y="350.3" width="2" height="2" fill="#ff0000"/><rect x="500.4" y="350.3" width="2" height="2" fill="#ff0000"/><rect x="504.7" y="350.09" width="2" height="2" fill="#ff0000"/><rect x="509" y="350.3" width="2" height="2" fill="#ff0000"/>
<polyline points="302.77,350.69 306.71,350.72 310.65,350.72 314.59,350.59 318.53,350.77 322.47,349.6 326.41,350.53 330.35,350.06 334.29,350.79 338.23,350.43 342.17,350.66 346.11,350.7 350.05,350.8 353.99,351.21 357.93,351.48 361.87,350.65 365.81,351.35 369.75,351.52 371.5,351 373.4,343.6 377.2,325.5 390.1,330.8 400,335.9 405.1,337.5 412.6,336.5 420.2,335.9 427.8,336.8 429,334 430.9,344.1 433.1,347.9 434.7,352.7 437.9,352.9 444.2,351.7 446.7,352.3 454.4,351.7 461.6,351.3 469.5,351.7 477.4,351.7 484.5,351.7 493.2,351.7 500.3,352.4 509,353.1 513.3,353.1" fill="none" stroke="#8a8a8a" stroke-width="0.7"/>
<rect x="370.4" y="349.9" width="2.2" height="2.2" fill="#000"/><rect x="372.3" y="342.5" width="2.2" height="2.2" fill="#000"/><rect x="376.1" y="324.4" width="2.2" height="2.2" fill="#000"/><rect x="389" y="329.7" width="2.2" height="2.2" fill="#000"/><rect x="398.9" y="334.8" width="2.2" height="2.2" fill="#000"/><rect x="404" y="336.4" width="2.2" height="2.2" fill="#000"/><rect x="411.5" y="335.4" width="2.2" height="2.2" fill="#000"/><rect x="419.1" y="334.8" width="2.2" height="2.2" fill="#000"/><rect x="426.7" y="335.7" width="2.2" height="2.2" fill="#000"/><rect x="427.9" y="332.9" width="2.2" height="2.2" fill="#000"/><rect x="429.8" y="343" width="2.2" height="2.2" fill="#000"/><rect x="432" y="346.8" width="2.2" height="2.2" fill="#000"/><rect x="433.6" y="351.6" width="2.2" height="2.2" fill="#000"/><rect x="436.8" y="351.8" width="2.2" height="2.2" fill="#000"/><rect x="443.1" y="350.6" width="2.2" height="2.2" fill="#000"/><rect x="445.6" y="351.2" width="2.2" height="2.2" fill="#000"/><rect x="453.3" y="350.6" width="2.2" height="2.2" fill="#000"/><rect x="460.5" y="350.2" width="2.2" height="2.2" fill="#000"/><rect x="468.4" y="350.6" width="2.2" height="2.2" fill="#000"/><rect x="476.3" y="350.6" width="2.2" height="2.2" fill="#000"/><rect x="483.4" y="350.6" width="2.2" height="2.2" fill="#000"/><rect x="492.1" y="350.6" width="2.2" height="2.2" fill="#000"/><rect x="499.2" y="351.3" width="2.2" height="2.2" fill="#000"/><rect x="507.9" y="352" width="2.2" height="2.2" fill="#000"/><rect x="512.2" y="352" width="2.2" height="2.2" fill="#000"/><rect x="376.1" y="324.4" width="2.2" height="2.2" fill="#000"/><rect x="377.5" y="324.98" width="2.2" height="2.2" fill="#000"/><rect x="378.9" y="325.55" width="2.2" height="2.2" fill="#000"/><rect x="380.3" y="326.13" width="2.2" height="2.2" fill="#000"/><rect x="381.7" y="326.7" width="2.2" height="2.2" fill="#000"/><rect x="383.1" y="327.28" width="2.2" height="2.2" fill="#000"/><rect x="384.5" y="327.85" width="2.2" height="2.2" fill="#000"/><rect x="385.9" y="328.43" width="2.2" height="2.2" fill="#000"/><rect x="387.3" y="329" width="2.2" height="2.2" fill="#000"/><rect x="388.7" y="329.58" width="2.2" height="2.2" fill="#000"/><rect x="390.1" y="330.27" width="2.2" height="2.2" fill="#000"/><rect x="391.5" y="330.99" width="2.2" height="2.2" fill="#000"/><rect x="392.9" y="331.71" width="2.2" height="2.2" fill="#000"/><rect x="394.3" y="332.43" width="2.2" height="2.2" fill="#000"/><rect x="395.7" y="333.15" width="2.2" height="2.2" fill="#000"/><rect x="397.1" y="333.87" width="2.2" height="2.2" fill="#000"/><rect x="398.5" y="334.59" width="2.2" height="2.2" fill="#000"/><rect x="399.9" y="335.11" width="2.2" height="2.2" fill="#000"/><rect x="401.3" y="335.55" width="2.2" height="2.2" fill="#000"/><rect x="402.7" y="335.99" width="2.2" height="2.2" fill="#000"/><rect x="404.1" y="336.39" width="2.2" height="2.2" fill="#000"/><rect x="405.5" y="336.2" width="2.2" height="2.2" fill="#000"/><rect x="406.9" y="336.01" width="2.2" height="2.2" fill="#000"/><rect x="408.3" y="335.83" width="2.2" height="2.2" fill="#000"/><rect x="409.7" y="335.64" width="2.2" height="2.2" fill="#000"/><rect x="411.1" y="335.45" width="2.2" height="2.2" fill="#000"/><rect x="412.5" y="335.32" width="2.2" height="2.2" fill="#000"/><rect x="413.9" y="335.21" width="2.2" height="2.2" fill="#000"/><rect x="415.3" y="335.1" width="2.2" height="2.2" fill="#000"/><rect x="416.7" y="334.99" width="2.2" height="2.2" fill="#000"/><rect x="418.1" y="334.88" width="2.2" height="2.2" fill="#000"/><rect x="419.5" y="334.85" width="2.2" height="2.2" fill="#000"/><rect x="420.9" y="335.01" width="2.2" height="2.2" fill="#000"/><rect x="422.3" y="335.18" width="2.2" height="2.2" fill="#000"/><rect x="423.7" y="335.34" width="2.2" height="2.2" fill="#000"/><rect x="425.1" y="335.51" width="2.2" height="2.2" fill="#000"/><rect x="426.5" y="335.68" width="2.2" height="2.2" fill="#000"/>
<polyline points="303.48,350.46 307.42,350.93 311.36,351.08 315.3,351.11 319.24,350.34 323.18,351.33 327.12,350.54 331.06,350.41 335,350.13 338.94,350.85 342.88,350.34 346.82,350.59 350.76,351.18 354.7,351.5 358.64,351.52 362.58,350.51 366.52,350.53 370.46,350.89 371.5,351 372.8,303.5 374.8,300.2 378,297.8 386.2,297 397.6,297 409,298.6 417.1,297 430.1,296.5 441.5,296.5 443,300.5 443.3,311.8 446,333 447.9,335.9 451.5,337.3 455.1,338.8 459.4,339.5 465.9,338.8 470.9,339.8 475.9,340.9 481.7,341.6 487.4,342.1 493.2,342.4 501.8,343.1 513.3,343.5" fill="none" stroke="#7080ff" stroke-width="0.7"/>
<path d="M369.83 352.08L373.17 352.08L371.5 349.58Z" fill="#0010ff"/><path d="M373.03 301.45L376.37 301.45L374.7 298.95Z" fill="#0010ff"/><path d="M376.23 298.96L379.57 298.96L377.9 296.46Z" fill="#0010ff"/><path d="M379.43 298.58L382.77 298.58L381.1 296.08Z" fill="#0010ff"/><path d="M382.63 298.27L385.97 298.27L384.3 295.77Z" fill="#0010ff"/><path d="M385.83 298.08L389.17 298.08L387.5 295.58Z" fill="#0010ff"/><path d="M389.03 298.08L392.37 298.08L390.7 295.58Z" fill="#0010ff"/><path d="M392.23 298.08L395.57 298.08L393.9 295.58Z" fill="#0010ff"/><path d="M395.43 298.08L398.77 298.08L397.1 295.58Z" fill="#0010ff"/><path d="M398.63 298.46L401.97 298.46L400.3 295.96Z" fill="#0010ff"/><path d="M401.83 298.91L405.17 298.91L403.5 296.41Z" fill="#0010ff"/><path d="M405.03 299.36L408.37 299.36L406.7 296.86Z" fill="#0010ff"/><path d="M408.23 299.51L411.57 299.51L409.9 297Z" fill="#0010ff"/><path d="M411.43 298.87L414.77 298.87L413.1 296.37Z" fill="#0010ff"/><path d="M414.63 298.24L417.97 298.24L416.3 295.74Z" fill="#0010ff"/><path d="M417.83 297.99L421.17 297.99L419.5 295.49Z" fill="#0010ff"/><path d="M421.03 297.87L424.37 297.87L422.7 295.37Z" fill="#0010ff"/><path d="M424.23 297.75L427.57 297.75L425.9 295.24Z" fill="#0010ff"/><path d="M427.43 297.62L430.77 297.62L429.1 295.12Z" fill="#0010ff"/><path d="M430.63 297.58L433.97 297.58L432.3 295.08Z" fill="#0010ff"/><path d="M433.83 297.58L437.17 297.58L435.5 295.08Z" fill="#0010ff"/><path d="M437.03 297.58L440.37 297.58L438.7 295.08Z" fill="#0010ff"/><path d="M439.83 297.58L443.17 297.58L441.5 295.08Z" fill="#0010ff"/><path d="M441.33 301.58L444.67 301.58L443 299.08Z" fill="#0010ff"/><path d="M441.63 312.88L444.97 312.88L443.3 310.38Z" fill="#0010ff"/><path d="M444.33 334.08L447.67 334.08L446 331.58Z" fill="#0010ff"/><path d="M446.23 336.98L449.57 336.98L447.9 334.48Z" fill="#0010ff"/><path d="M449.83 338.38L453.17 338.38L451.5 335.88Z" fill="#0010ff"/><path d="M453.43 339.88L456.77 339.88L455.1 337.38Z" fill="#0010ff"/><path d="M457.73 340.58L461.07 340.58L459.4 338.08Z" fill="#0010ff"/><path d="M464.23 339.88L467.57 339.88L465.9 337.38Z" fill="#0010ff"/><path d="M469.23 340.88L472.57 340.88L470.9 338.38Z" fill="#0010ff"/><path d="M474.23 341.98L477.57 341.98L475.9 339.48Z" fill="#0010ff"/><path d="M480.03 342.68L483.37 342.68L481.7 340.18Z" fill="#0010ff"/><path d="M485.73 343.18L489.07 343.18L487.4 340.68Z" fill="#0010ff"/><path d="M491.53 343.48L494.87 343.48L493.2 340.98Z" fill="#0010ff"/><path d="M500.13 344.18L503.47 344.18L501.8 341.68Z" fill="#0010ff"/><path d="M511.63 344.58L514.97 344.58L513.3 342.08Z" fill="#0010ff"/>
<polyline points="303.62,350.24 307.56,350.59 311.5,349.79 315.44,350.44 319.38,350.88 323.32,350.96 327.26,349.87 331.2,350.67 335.14,350.67 339.08,350.54 343.02,351.34 346.96,350.69 350.9,350.62 354.84,351.47 358.78,351.04 362.72,350.56 366.66,350.63 370.6,350.98 371.5,351 373.1,302.7 374.8,299.4 378,297 382.9,296.2 389.4,295.4 397.6,294.2 405.7,292.6 413.9,291 422,289.7 430.1,288.8 438.3,287.7 443.2,286.4 444.8,285.1 445.8,300.5 446.1,306.5 447.9,322.2 448.9,330.9 450.1,335.2 452.9,336.3 456.5,336.9 465.1,336.9 483.1,338.8 513.3,340.2" fill="none" stroke="#e090ff" stroke-width="0.7"/>
<path d="M369.83 349.92L373.17 349.92L371.5 352.42Z" fill="#c000f0"/><path d="M373.43 298.09L376.77 298.09L375.1 300.59Z" fill="#c000f0"/><path d="M377.03 295.8L380.37 295.8L378.7 298.3Z" fill="#c000f0"/><path d="M380.63 295.21L383.97 295.21L382.3 297.72Z" fill="#c000f0"/><path d="M384.23 294.75L387.57 294.75L385.9 297.25Z" fill="#c000f0"/><path d="M387.83 294.3L391.17 294.3L389.5 296.8Z" fill="#c000f0"/><path d="M391.43 293.77L394.77 293.77L393.1 296.28Z" fill="#c000f0"/><path d="M395.03 293.25L398.37 293.25L396.7 295.75Z" fill="#c000f0"/><path d="M398.63 292.58L401.97 292.58L400.3 295.08Z" fill="#c000f0"/><path d="M402.23 291.87L405.57 291.87L403.9 294.37Z" fill="#c000f0"/><path d="M405.83 291.16L409.17 291.16L407.5 293.67Z" fill="#c000f0"/><path d="M409.43 290.46L412.77 290.46L411.1 292.96Z" fill="#c000f0"/><path d="M413.03 289.79L416.37 289.79L414.7 292.29Z" fill="#c000f0"/><path d="M416.63 289.21L419.97 289.21L418.3 291.71Z" fill="#c000f0"/><path d="M420.23 288.63L423.57 288.63L421.9 291.13Z" fill="#c000f0"/><path d="M423.83 288.23L427.17 288.23L425.5 290.73Z" fill="#c000f0"/><path d="M427.43 287.83L430.77 287.83L429.1 290.33Z" fill="#c000f0"/><path d="M431.03 287.37L434.37 287.37L432.7 289.87Z" fill="#c000f0"/><path d="M434.63 286.88L437.97 286.88L436.3 289.39Z" fill="#c000f0"/><path d="M438.23 286.19L441.57 286.19L439.9 288.69Z" fill="#c000f0"/><path d="M441.83 285.07L445.17 285.07L443.5 287.57Z" fill="#c000f0"/><path d="M443.13 284.02L446.47 284.02L444.8 286.52Z" fill="#c000f0"/><path d="M444.13 299.42L447.47 299.42L445.8 301.92Z" fill="#c000f0"/><path d="M444.43 305.42L447.77 305.42L446.1 307.92Z" fill="#c000f0"/><path d="M446.23 321.12L449.57 321.12L447.9 323.62Z" fill="#c000f0"/><path d="M447.23 329.82L450.57 329.82L448.9 332.32Z" fill="#c000f0"/><path d="M448.43 334.12L451.77 334.12L450.1 336.62Z" fill="#c000f0"/><path d="M451.23 335.22L454.57 335.22L452.9 337.72Z" fill="#c000f0"/><path d="M454.83 335.82L458.17 335.82L456.5 338.32Z" fill="#c000f0"/><path d="M463.43 335.82L466.77 335.82L465.1 338.32Z" fill="#c000f0"/><path d="M481.43 337.72L484.77 337.72L483.1 340.22Z" fill="#c000f0"/><path d="M511.63 339.12L514.97 339.12L513.3 341.62Z" fill="#c000f0"/>
<polyline points="301.87,344.57 305.81,344.84 309.75,345.72 313.69,345.4 317.63,345.83 321.57,345.25 325.51,345.9 329.45,346.47 333.39,346.25 337.33,346.92 341.27,347 345.21,346.55 349.15,346.27 353.09,347.34 357.03,346.75 360.97,346.77 364.91,347.8 368.85,348.1 371.5,347.5 371.8,314.1 373.1,290.5 374,286.4 375.6,283.1 378,281.5 382.9,280.4 387.8,278.7 392.7,276.8 397.6,274.7 402.5,273 407.3,271.4 412.2,269.8 417.1,268.2 422,266.5 426.9,265.7 431.8,264.4 436.7,263.3 441.5,262.5 446.1,261.4 448.3,264.8 450.6,270.9 450.9,273.9 453.6,304.2 455.1,316.5 457.2,322.2 459.4,325.8 463,328 466.6,328.7 470.2,329.1 474.5,330.6 478.1,331.3 482.4,332.3 486,333 490.3,333.7 493.9,334.5 497.5,335.2 501.8,336.3 505.4,337.3 509.7,337.3 513.3,337.3" fill="none" stroke="#70d070" stroke-width="0.7"/>
<circle cx="371.5" cy="347.5" r="1.25" fill="#00a000"/><circle cx="371.8" cy="314.1" r="1.25" fill="#00a000"/><circle cx="373.1" cy="290.5" r="1.25" fill="#00a000"/><circle cx="374" cy="286.4" r="1.25" fill="#00a000"/><circle cx="375.6" cy="283.1" r="1.25" fill="#00a000"/><circle cx="378" cy="281.5" r="1.25" fill="#00a000"/><circle cx="382.9" cy="280.4" r="1.25" fill="#00a000"/><circle cx="387.8" cy="278.7" r="1.25" fill="#00a000"/><circle cx="392.7" cy="276.8" r="1.25" fill="#00a000"/><circle cx="397.6" cy="274.7" r="1.25" fill="#00a000"/><circle cx="402.5" cy="273" r="1.25" fill="#00a000"/><circle cx="407.3" cy="271.4" r="1.25" fill="#00a000"/><circle cx="412.2" cy="269.8" r="1.25" fill="#00a000"/><circle cx="417.1" cy="268.2" r="1.25" fill="#00a000"/><circle cx="422" cy="266.5" r="1.25" fill="#00a000"/><circle cx="426.9" cy="265.7" r="1.25" fill="#00a000"/><circle cx="431.8" cy="264.4" r="1.25" fill="#00a000"/><circle cx="436.7" cy="263.3" r="1.25" fill="#00a000"/><circle cx="441.5" cy="262.5" r="1.25" fill="#00a000"/><circle cx="446.1" cy="261.4" r="1.25" fill="#00a000"/><circle cx="446.1" cy="261.4" r="1.25" fill="#00a000"/><circle cx="448.3" cy="264.8" r="1.25" fill="#00a000"/><circle cx="450.6" cy="270.9" r="1.25" fill="#00a000"/><circle cx="450.9" cy="273.9" r="1.25" fill="#00a000"/><circle cx="450.9" cy="273.9" r="1.25" fill="#00a000"/><circle cx="453.6" cy="304.2" r="1.25" fill="#00a000"/><circle cx="455.1" cy="316.5" r="1.25" fill="#00a000"/><circle cx="457.2" cy="322.2" r="1.25" fill="#00a000"/><circle cx="459.4" cy="325.8" r="1.25" fill="#00a000"/><circle cx="463" cy="328" r="1.25" fill="#00a000"/><circle cx="466.6" cy="328.7" r="1.25" fill="#00a000"/><circle cx="470.2" cy="329.1" r="1.25" fill="#00a000"/><circle cx="474.5" cy="330.6" r="1.25" fill="#00a000"/><circle cx="478.1" cy="331.3" r="1.25" fill="#00a000"/><circle cx="482.4" cy="332.3" r="1.25" fill="#00a000"/><circle cx="486" cy="333" r="1.25" fill="#00a000"/><circle cx="490.3" cy="333.7" r="1.25" fill="#00a000"/><circle cx="493.9" cy="334.5" r="1.25" fill="#00a000"/><circle cx="497.5" cy="335.2" r="1.25" fill="#00a000"/><circle cx="501.8" cy="336.3" r="1.25" fill="#00a000"/><circle cx="505.4" cy="337.3" r="1.25" fill="#00a000"/><circle cx="509.7" cy="337.3" r="1.25" fill="#00a000"/><circle cx="513.3" cy="337.3" r="1.25" fill="#00a000"/>
<polyline points="301.64,348.96 305.58,349.46 309.52,349.98 313.46,349.33 317.4,349.41 321.34,349.69 325.28,350.54 329.22,349.8 333.16,350.74 337.1,350.74 341.04,350.12 344.98,350.79 348.92,350.78 352.86,350.84 356.8,351.77 360.74,350.62 364.68,350.63 368.62,352.03 371.5,351 372.8,281.2 374,277.1 375.6,273 377.2,269.8 379.7,266.5 382.1,264.1 385.4,262.1 389.4,259.2 394.3,256.3 399.2,254 404.1,251.1 409,249.1 413.9,246.7 418.7,245.4 423.6,244.2 430.1,241.3 435,239.7 439.9,237.7 443.2,236.7 446.4,236.4 447.9,261.1 449.1,272.4 449.4,279.2 453.9,300.5 455.8,311.5 457.2,316.5 460.1,322.2 463,323 466.6,323.4 470.2,324.4 474.5,325.4 478.1,326.6 482.4,327.7 486.7,328.7 490.3,329.7 493.9,330.6 498.2,332.3 501.8,333.4 506.1,333 509.7,335.9 513.3,337.3" fill="none" stroke="#6060e0" stroke-width="0.7"/>
<path d="M372.63 349.26L372.63 352.74L370.02 351Z" fill="#0000c8"/><path d="M373.93 279.46L373.93 282.94L371.32 281.2Z" fill="#0000c8"/><path d="M375.13 275.36L375.13 278.84L372.52 277.1Z" fill="#0000c8"/><path d="M376.73 271.26L376.73 274.74L374.12 273Z" fill="#0000c8"/><path d="M378.33 268.06L378.33 271.54L375.72 269.8Z" fill="#0000c8"/><path d="M380.83 264.76L380.83 268.24L378.22 266.5Z" fill="#0000c8"/><path d="M383.23 262.36L383.23 265.84L380.62 264.1Z" fill="#0000c8"/><path d="M386.53 260.36L386.53 263.84L383.92 262.1Z" fill="#0000c8"/><path d="M390.53 257.46L390.53 260.94L387.92 259.2Z" fill="#0000c8"/><path d="M395.43 254.56L395.43 258.04L392.82 256.3Z" fill="#0000c8"/><path d="M400.33 252.26L400.33 255.74L397.72 254Z" fill="#0000c8"/><path d="M405.23 249.36L405.23 252.84L402.62 251.1Z" fill="#0000c8"/><path d="M410.13 247.36L410.13 250.84L407.52 249.1Z" fill="#0000c8"/><path d="M415.03 244.96L415.03 248.44L412.42 246.7Z" fill="#0000c8"/><path d="M419.83 243.66L419.83 247.14L417.22 245.4Z" fill="#0000c8"/><path d="M424.73 242.46L424.73 245.94L422.12 244.2Z" fill="#0000c8"/><path d="M431.23 239.56L431.23 243.04L428.62 241.3Z" fill="#0000c8"/><path d="M436.13 237.96L436.13 241.44L433.52 239.7Z" fill="#0000c8"/><path d="M441.03 235.96L441.03 239.44L438.42 237.7Z" fill="#0000c8"/><path d="M444.33 234.96L444.33 238.44L441.72 236.7Z" fill="#0000c8"/><path d="M447.53 234.66L447.53 238.14L444.92 236.4Z" fill="#0000c8"/><path d="M449.03 259.36L449.03 262.84L446.42 261.1Z" fill="#0000c8"/><path d="M450.23 270.66L450.23 274.14L447.62 272.4Z" fill="#0000c8"/><path d="M450.53 277.46L450.53 280.94L447.92 279.2Z" fill="#0000c8"/><path d="M455.03 298.76L455.03 302.24L452.42 300.5Z" fill="#0000c8"/><path d="M456.93 309.76L456.93 313.24L454.32 311.5Z" fill="#0000c8"/><path d="M458.33 314.76L458.33 318.24L455.72 316.5Z" fill="#0000c8"/><path d="M461.23 320.46L461.23 323.94L458.62 322.2Z" fill="#0000c8"/><path d="M464.13 321.26L464.13 324.74L461.52 323Z" fill="#0000c8"/><path d="M467.73 321.66L467.73 325.14L465.12 323.4Z" fill="#0000c8"/><path d="M471.33 322.66L471.33 326.14L468.72 324.4Z" fill="#0000c8"/><path d="M475.63 323.66L475.63 327.14L473.02 325.4Z" fill="#0000c8"/><path d="M479.23 324.86L479.23 328.34L476.62 326.6Z" fill="#0000c8"/><path d="M483.53 325.96L483.53 329.44L480.92 327.7Z" fill="#0000c8"/><path d="M487.83 326.96L487.83 330.44L485.22 328.7Z" fill="#0000c8"/><path d="M491.43 327.96L491.43 331.44L488.82 329.7Z" fill="#0000c8"/><path d="M495.03 328.86L495.03 332.34L492.42 330.6Z" fill="#0000c8"/><path d="M499.33 330.56L499.33 334.04L496.72 332.3Z" fill="#0000c8"/><path d="M502.93 331.66L502.93 335.14L500.32 333.4Z" fill="#0000c8"/><path d="M507.23 331.26L507.23 334.74L504.62 333Z" fill="#0000c8"/><path d="M510.83 334.16L510.83 337.64L508.22 335.9Z" fill="#0000c8"/><path d="M514.43 335.56L514.43 339.04L511.82 337.3Z" fill="#0000c8"/>
<path d="M318.53 347.67L318.53 351.15L315.92 349.41Z" fill="#0000c8"/><path d="M349.09 352.26L352.42 352.26L350.76 349.76Z" fill="#0010ff"/><path d="M368.93 349.9L372.27 349.9L370.6 352.4Z" fill="#c000f0"/><circle cx="305.81" cy="344.84" r="1.25" fill="#00a000"/><circle cx="357.03" cy="346.75" r="1.25" fill="#00a000"/><path d="M301.81 351.55L305.14 351.55L303.48 349.05Z" fill="#0010ff"/><circle cx="313.69" cy="345.4" r="1.25" fill="#00a000"/><path d="M333.47 349.58L336.81 349.58L335.14 352.08Z" fill="#c000f0"/><path d="M309.83 348.7L313.17 348.7L311.5 351.2Z" fill="#c000f0"/><circle cx="337.33" cy="346.92" r="1.25" fill="#00a000"/><path d="M337.27 351.94L340.6 351.94L338.94 349.44Z" fill="#0010ff"/><rect x="337.13" y="349.33" width="2.2" height="2.2" fill="#000"/><rect x="333.19" y="349.69" width="2.2" height="2.2" fill="#000"/><path d="M357.93 350.03L357.93 353.51L355.32 351.77Z" fill="#0000c8"/><circle cx="364.91" cy="347.8" r="1.25" fill="#00a000"/><path d="M301.95 349.16L305.29 349.16L303.62 351.66Z" fill="#c000f0"/><circle cx="333.39" cy="346.25" r="1.25" fill="#00a000"/><path d="M349.23 349.53L352.57 349.53L350.9 352.04Z" fill="#c000f0"/><path d="M360.91 351.59L364.24 351.59L362.58 349.09Z" fill="#0010ff"/><rect x="369.53" y="355.53" width="2" height="2" fill="#ff0000"/><rect x="305.61" y="349.62" width="2.2" height="2.2" fill="#000"/><path d="M353.17 350.39L356.51 350.39L354.84 352.89Z" fill="#c000f0"/><path d="M345.29 349.61L348.63 349.61L346.96 352.11Z" fill="#c000f0"/><rect x="314.37" y="352.87" width="2" height="2" fill="#ff0000"/><circle cx="360.97" cy="346.77" r="1.25" fill="#00a000"/><path d="M325.59 348.78L328.93 348.78L327.26 351.28Z" fill="#c000f0"/><path d="M353.03 352.59L356.36 352.59L354.7 350.08Z" fill="#0010ff"/><path d="M342.17 348.38L342.17 351.86L339.56 350.12Z" fill="#0000c8"/><path d="M305.75 352.02L309.08 352.02L307.42 349.52Z" fill="#0010ff"/><path d="M329.53 349.58L332.87 349.58L331.2 352.08Z" fill="#c000f0"/><rect x="306.49" y="353.12" width="2" height="2" fill="#ff0000"/><path d="M364.99 349.54L368.33 349.54L366.66 352.04Z" fill="#c000f0"/><rect x="341.07" y="349.56" width="2.2" height="2.2" fill="#000"/><path d="M322.47 347.95L322.47 351.43L319.86 349.69Z" fill="#0000c8"/><rect x="341.95" y="354.04" width="2" height="2" fill="#ff0000"/><path d="M338.23 349L338.23 352.48L335.62 350.74Z" fill="#0000c8"/><path d="M333.33 351.21L336.66 351.21L335 348.71Z" fill="#0010ff"/><circle cx="368.85" cy="348.1" r="1.25" fill="#00a000"/><rect x="325.31" y="349.43" width="2.2" height="2.2" fill="#000"/><path d="M317.71 349.8L321.05 349.8L319.38 352.3Z" fill="#c000f0"/><path d="M305.89 349.51L309.23 349.51L307.56 352.01Z" fill="#c000f0"/><path d="M337.41 349.46L340.75 349.46L339.08 351.96Z" fill="#c000f0"/><circle cx="301.87" cy="344.57" r="1.25" fill="#00a000"/><rect x="345.89" y="354.61" width="2" height="2" fill="#ff0000"/><path d="M310.65 348.24L310.65 351.72L308.04 349.98Z" fill="#0000c8"/><rect x="357.71" y="354.64" width="2" height="2" fill="#ff0000"/><rect x="334.07" y="354.41" width="2" height="2" fill="#ff0000"/><path d="M317.57 351.42L320.9 351.42L319.24 348.92Z" fill="#0010ff"/><rect x="348.95" y="349.7" width="2.2" height="2.2" fill="#000"/><rect x="368.65" y="350.42" width="2.2" height="2.2" fill="#000"/><path d="M353.99 349.1L353.99 352.58L351.38 350.84Z" fill="#0000c8"/><path d="M302.77 347.22L302.77 350.7L300.16 348.96Z" fill="#0000c8"/><path d="M341.21 351.42L344.54 351.42L342.88 348.92Z" fill="#0010ff"/><path d="M330.35 348.06L330.35 351.54L327.74 349.8Z" fill="#0000c8"/><rect x="326.19" y="353.89" width="2" height="2" fill="#ff0000"/><path d="M341.35 350.25L344.69 350.25L343.02 352.76Z" fill="#c000f0"/><circle cx="325.51" cy="345.9" r="1.25" fill="#00a000"/><path d="M361.05 349.47L364.39 349.47L362.72 351.97Z" fill="#c000f0"/><rect x="364.71" y="350.25" width="2.2" height="2.2" fill="#000"/><path d="M313.63 352.19L316.96 352.19L315.3 349.69Z" fill="#0010ff"/><rect x="317.43" y="349.67" width="2.2" height="2.2" fill="#000"/><circle cx="353.09" cy="347.34" r="1.25" fill="#00a000"/><circle cx="317.63" cy="345.83" r="1.25" fill="#00a000"/><path d="M329.39 351.5L332.72 351.5L331.06 348.99Z" fill="#0010ff"/><path d="M368.79 351.98L372.12 351.98L370.46 349.48Z" fill="#0010ff"/><circle cx="349.15" cy="346.27" r="1.25" fill="#00a000"/><rect x="309.55" y="349.62" width="2.2" height="2.2" fill="#000"/><path d="M361.87 348.88L361.87 352.36L359.26 350.62Z" fill="#0000c8"/><rect x="318.31" y="353.84" width="2" height="2" fill="#ff0000"/><rect x="349.83" y="354.6" width="2" height="2" fill="#ff0000"/><circle cx="321.57" cy="345.25" r="1.25" fill="#00a000"/><rect x="321.37" y="348.5" width="2.2" height="2.2" fill="#000"/><rect x="360.77" y="349.55" width="2.2" height="2.2" fill="#000"/><rect x="352.89" y="350.11" width="2.2" height="2.2" fill="#000"/><path d="M357.11 349.95L360.45 349.95L358.78 352.45Z" fill="#c000f0"/><path d="M313.77 349.36L317.11 349.36L315.44 351.86Z" fill="#c000f0"/><path d="M321.65 349.88L324.99 349.88L323.32 352.38Z" fill="#c000f0"/><rect x="322.25" y="353.52" width="2" height="2" fill="#ff0000"/><path d="M364.85 351.61L368.18 351.61L366.52 349.11Z" fill="#0010ff"/><path d="M309.69 352.16L313.02 352.16L311.36 349.66Z" fill="#0010ff"/><path d="M326.41 348.8L326.41 352.28L323.8 350.54Z" fill="#0000c8"/><circle cx="329.45" cy="346.47" r="1.25" fill="#00a000"/><path d="M321.51 352.41L324.84 352.41L323.18 349.91Z" fill="#0010ff"/><path d="M350.05 349.04L350.05 352.52L347.44 350.78Z" fill="#0000c8"/><rect x="356.83" y="350.38" width="2.2" height="2.2" fill="#000"/><circle cx="309.75" cy="345.72" r="1.25" fill="#00a000"/><path d="M365.81 348.89L365.81 352.37L363.2 350.63Z" fill="#0000c8"/><rect x="330.13" y="354.05" width="2" height="2" fill="#ff0000"/><circle cx="341.27" cy="347" r="1.25" fill="#00a000"/><path d="M345.15 351.67L348.48 351.67L346.82 349.17Z" fill="#0010ff"/><path d="M346.11 349.05L346.11 352.53L343.5 350.79Z" fill="#0000c8"/><circle cx="345.21" cy="346.55" r="1.25" fill="#00a000"/><rect x="338.01" y="353.77" width="2" height="2" fill="#ff0000"/><rect x="361.65" y="355.5" width="2" height="2" fill="#ff0000"/><rect x="301.67" y="349.59" width="2.2" height="2.2" fill="#000"/><rect x="353.77" y="354.95" width="2" height="2" fill="#ff0000"/><rect x="313.49" y="349.49" width="2.2" height="2.2" fill="#000"/><path d="M369.75 350.29L369.75 353.77L367.14 352.03Z" fill="#0000c8"/><rect x="365.59" y="354.52" width="2" height="2" fill="#ff0000"/><path d="M306.71 347.72L306.71 351.2L304.1 349.46Z" fill="#0000c8"/><rect x="302.55" y="352.98" width="2" height="2" fill="#ff0000"/><path d="M325.45 351.63L328.78 351.63L327.12 349.13Z" fill="#0010ff"/><path d="M356.97 352.6L360.3 352.6L358.64 350.1Z" fill="#0010ff"/><rect x="345.01" y="349.6" width="2.2" height="2.2" fill="#000"/><path d="M334.29 349L334.29 352.48L331.68 350.74Z" fill="#0000c8"/><path d="M314.59 347.59L314.59 351.07L311.98 349.33Z" fill="#0000c8"/><rect x="329.25" y="348.96" width="2.2" height="2.2" fill="#000"/><rect x="310.43" y="353.42" width="2" height="2" fill="#ff0000"/>
</svg></body></html>
